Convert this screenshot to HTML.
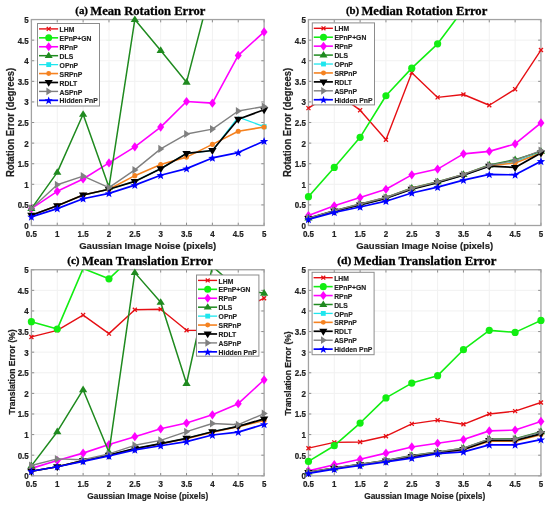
<!DOCTYPE html>
<html><head><meta charset="utf-8"><style>
html,body{margin:0;padding:0;background:#fff;width:550px;height:508px;overflow:hidden}
svg{display:block}
.tk{font-family:"Liberation Sans",Arial,sans-serif;font-weight:bold;font-size:8.4px;fill:#222222;stroke:#222222;stroke-width:0.2px}
.al{font-family:"Liberation Sans",Arial,sans-serif;font-weight:bold;font-size:9.5px;fill:#222222;stroke:#222222;stroke-width:0.2px}
.lg{font-family:"Liberation Sans",Arial,sans-serif;font-weight:bold;font-size:7.0px;fill:#222222;stroke:#222222;stroke-width:0.15px}
.ti{font-family:"Liberation Serif","Times New Roman",serif;font-weight:bold;font-size:13.4px;fill:#000;stroke:#000;stroke-width:0.3px}
.tl{font-size:10.8px}
</style></head><body>
<svg width="550" height="508" viewBox="0 0 550 508">
<rect x="0" y="0" width="550" height="508" fill="#fff"/>
<defs>
<clipPath id="clipa"><rect x="31.4" y="19.55" width="232.70000000000002" height="205.95"/></clipPath>
<clipPath id="clipb"><rect x="308.45" y="19.55" width="232.50000000000006" height="205.95"/></clipPath>
<clipPath id="clipc"><rect x="31.4" y="269.75" width="232.70000000000002" height="206.05"/></clipPath>
<clipPath id="clipd"><rect x="308.45" y="269.75" width="232.50000000000006" height="206.05"/></clipPath>
</defs>
<line x1="57.26" y1="19.55" x2="57.26" y2="225.5" stroke="#f1f1f1" stroke-width="1"/><line x1="83.11" y1="19.55" x2="83.11" y2="225.5" stroke="#f1f1f1" stroke-width="1"/><line x1="108.97" y1="19.55" x2="108.97" y2="225.5" stroke="#f1f1f1" stroke-width="1"/><line x1="134.82" y1="19.55" x2="134.82" y2="225.5" stroke="#f1f1f1" stroke-width="1"/><line x1="160.68" y1="19.55" x2="160.68" y2="225.5" stroke="#f1f1f1" stroke-width="1"/><line x1="186.53" y1="19.55" x2="186.53" y2="225.5" stroke="#f1f1f1" stroke-width="1"/><line x1="212.39" y1="19.55" x2="212.39" y2="225.5" stroke="#f1f1f1" stroke-width="1"/><line x1="238.24" y1="19.55" x2="238.24" y2="225.5" stroke="#f1f1f1" stroke-width="1"/><line x1="31.4" y1="204.91" x2="264.1" y2="204.91" stroke="#f1f1f1" stroke-width="1"/><line x1="31.4" y1="184.31" x2="264.1" y2="184.31" stroke="#f1f1f1" stroke-width="1"/><line x1="31.4" y1="163.72" x2="264.1" y2="163.72" stroke="#f1f1f1" stroke-width="1"/><line x1="31.4" y1="143.12" x2="264.1" y2="143.12" stroke="#f1f1f1" stroke-width="1"/><line x1="31.4" y1="122.53" x2="264.1" y2="122.53" stroke="#f1f1f1" stroke-width="1"/><line x1="31.4" y1="101.93" x2="264.1" y2="101.93" stroke="#f1f1f1" stroke-width="1"/><line x1="31.4" y1="81.34" x2="264.1" y2="81.34" stroke="#f1f1f1" stroke-width="1"/><line x1="31.4" y1="60.74" x2="264.1" y2="60.74" stroke="#f1f1f1" stroke-width="1"/><line x1="31.4" y1="40.15" x2="264.1" y2="40.15" stroke="#f1f1f1" stroke-width="1"/><line x1="31.40" y1="225.5" x2="31.40" y2="222.7" stroke="#808080" stroke-width="0.9"/><line x1="31.40" y1="19.55" x2="31.40" y2="22.35" stroke="#808080" stroke-width="0.9"/><line x1="57.26" y1="225.5" x2="57.26" y2="222.7" stroke="#808080" stroke-width="0.9"/><line x1="57.26" y1="19.55" x2="57.26" y2="22.35" stroke="#808080" stroke-width="0.9"/><line x1="83.11" y1="225.5" x2="83.11" y2="222.7" stroke="#808080" stroke-width="0.9"/><line x1="83.11" y1="19.55" x2="83.11" y2="22.35" stroke="#808080" stroke-width="0.9"/><line x1="108.97" y1="225.5" x2="108.97" y2="222.7" stroke="#808080" stroke-width="0.9"/><line x1="108.97" y1="19.55" x2="108.97" y2="22.35" stroke="#808080" stroke-width="0.9"/><line x1="134.82" y1="225.5" x2="134.82" y2="222.7" stroke="#808080" stroke-width="0.9"/><line x1="134.82" y1="19.55" x2="134.82" y2="22.35" stroke="#808080" stroke-width="0.9"/><line x1="160.68" y1="225.5" x2="160.68" y2="222.7" stroke="#808080" stroke-width="0.9"/><line x1="160.68" y1="19.55" x2="160.68" y2="22.35" stroke="#808080" stroke-width="0.9"/><line x1="186.53" y1="225.5" x2="186.53" y2="222.7" stroke="#808080" stroke-width="0.9"/><line x1="186.53" y1="19.55" x2="186.53" y2="22.35" stroke="#808080" stroke-width="0.9"/><line x1="212.39" y1="225.5" x2="212.39" y2="222.7" stroke="#808080" stroke-width="0.9"/><line x1="212.39" y1="19.55" x2="212.39" y2="22.35" stroke="#808080" stroke-width="0.9"/><line x1="238.24" y1="225.5" x2="238.24" y2="222.7" stroke="#808080" stroke-width="0.9"/><line x1="238.24" y1="19.55" x2="238.24" y2="22.35" stroke="#808080" stroke-width="0.9"/><line x1="264.10" y1="225.5" x2="264.10" y2="222.7" stroke="#808080" stroke-width="0.9"/><line x1="264.10" y1="19.55" x2="264.10" y2="22.35" stroke="#808080" stroke-width="0.9"/><line x1="31.4" y1="225.50" x2="34.199999999999996" y2="225.50" stroke="#808080" stroke-width="0.9"/><line x1="264.1" y1="225.50" x2="261.3" y2="225.50" stroke="#808080" stroke-width="0.9"/><line x1="31.4" y1="204.91" x2="34.199999999999996" y2="204.91" stroke="#808080" stroke-width="0.9"/><line x1="264.1" y1="204.91" x2="261.3" y2="204.91" stroke="#808080" stroke-width="0.9"/><line x1="31.4" y1="184.31" x2="34.199999999999996" y2="184.31" stroke="#808080" stroke-width="0.9"/><line x1="264.1" y1="184.31" x2="261.3" y2="184.31" stroke="#808080" stroke-width="0.9"/><line x1="31.4" y1="163.72" x2="34.199999999999996" y2="163.72" stroke="#808080" stroke-width="0.9"/><line x1="264.1" y1="163.72" x2="261.3" y2="163.72" stroke="#808080" stroke-width="0.9"/><line x1="31.4" y1="143.12" x2="34.199999999999996" y2="143.12" stroke="#808080" stroke-width="0.9"/><line x1="264.1" y1="143.12" x2="261.3" y2="143.12" stroke="#808080" stroke-width="0.9"/><line x1="31.4" y1="122.53" x2="34.199999999999996" y2="122.53" stroke="#808080" stroke-width="0.9"/><line x1="264.1" y1="122.53" x2="261.3" y2="122.53" stroke="#808080" stroke-width="0.9"/><line x1="31.4" y1="101.93" x2="34.199999999999996" y2="101.93" stroke="#808080" stroke-width="0.9"/><line x1="264.1" y1="101.93" x2="261.3" y2="101.93" stroke="#808080" stroke-width="0.9"/><line x1="31.4" y1="81.34" x2="34.199999999999996" y2="81.34" stroke="#808080" stroke-width="0.9"/><line x1="264.1" y1="81.34" x2="261.3" y2="81.34" stroke="#808080" stroke-width="0.9"/><line x1="31.4" y1="60.74" x2="34.199999999999996" y2="60.74" stroke="#808080" stroke-width="0.9"/><line x1="264.1" y1="60.74" x2="261.3" y2="60.74" stroke="#808080" stroke-width="0.9"/><line x1="31.4" y1="40.15" x2="34.199999999999996" y2="40.15" stroke="#808080" stroke-width="0.9"/><line x1="264.1" y1="40.15" x2="261.3" y2="40.15" stroke="#808080" stroke-width="0.9"/><line x1="31.4" y1="19.55" x2="34.199999999999996" y2="19.55" stroke="#808080" stroke-width="0.9"/><line x1="264.1" y1="19.55" x2="261.3" y2="19.55" stroke="#808080" stroke-width="0.9"/><rect x="31.4" y="19.55" width="232.70" height="205.95" fill="none" stroke="#a2a2a2" stroke-width="1.3"/><polyline clip-path="url(#clipa)" points="31.40,208.61 57.26,191.31 83.11,178.96 108.97,162.89 134.82,146.83 160.68,127.06 186.53,101.52 212.39,103.17 238.24,55.39 264.10,31.91" fill="none" stroke="#ff00ff" stroke-width="1.6" stroke-linejoin="round"/><path d="M31.40,204.01L34.88,208.61L31.40,213.21L27.92,208.61Z" fill="#ff00ff"/><path d="M57.26,186.71L60.74,191.31L57.26,195.91L53.77,191.31Z" fill="#ff00ff"/><path d="M83.11,174.35L86.59,178.96L83.11,183.56L79.63,178.96Z" fill="#ff00ff"/><path d="M108.97,158.29L112.45,162.89L108.97,167.49L105.49,162.89Z" fill="#ff00ff"/><path d="M134.82,142.23L138.30,146.83L134.82,151.43L131.34,146.83Z" fill="#ff00ff"/><path d="M160.68,122.45L164.16,127.06L160.68,131.66L157.20,127.06Z" fill="#ff00ff"/><path d="M186.53,96.92L190.01,101.52L186.53,106.12L183.05,101.52Z" fill="#ff00ff"/><path d="M212.39,98.56L215.87,103.17L212.39,107.77L208.91,103.17Z" fill="#ff00ff"/><path d="M238.24,50.78L241.73,55.39L238.24,59.99L234.76,55.39Z" fill="#ff00ff"/><path d="M264.10,27.31L267.58,31.91L264.10,36.51L260.62,31.91Z" fill="#ff00ff"/><polyline clip-path="url(#clipa)" points="31.40,208.61 57.26,172.36 83.11,114.29 108.97,187.19 134.82,19.55 160.68,50.44 186.53,82.16 212.39,-17.52 238.24,-62.83 264.10,-104.02" fill="none" stroke="#1f8a1f" stroke-width="1.5" stroke-linejoin="round"/><path d="M31.40,204.48L35.53,211.09L27.27,211.09Z" fill="#1f8a1f"/><path d="M57.26,168.23L61.39,174.84L53.13,174.84Z" fill="#1f8a1f"/><path d="M83.11,110.16L87.24,116.76L78.98,116.76Z" fill="#1f8a1f"/><path d="M108.97,183.06L113.10,189.67L104.84,189.67Z" fill="#1f8a1f"/><path d="M134.82,15.42L138.95,22.03L130.69,22.03Z" fill="#1f8a1f"/><path d="M160.68,46.31L164.81,52.92L156.55,52.92Z" fill="#1f8a1f"/><path d="M186.53,78.03L190.66,84.64L182.40,84.64Z" fill="#1f8a1f"/><polyline clip-path="url(#clipa)" points="31.40,215.20 57.26,205.73 83.11,195.02 108.97,189.25 134.82,181.43 160.68,168.66 186.53,153.42 212.39,150.53 238.24,117.17 264.10,126.64" fill="none" stroke="#1ee6ee" stroke-width="1.3" stroke-linejoin="round"/><rect x="261.62" y="124.17" width="4.96" height="4.96" fill="#1ee6ee"/><polyline clip-path="url(#clipa)" points="31.40,215.20 57.26,205.73 83.11,195.02 108.97,189.25 134.82,175.66 160.68,164.54 186.53,157.12 212.39,144.36 238.24,131.17 264.10,127.06" fill="none" stroke="#f58220" stroke-width="1.6" stroke-linejoin="round"/><circle cx="31.40" cy="215.20" r="2.54" fill="#f58220"/><circle cx="57.26" cy="205.73" r="2.54" fill="#f58220"/><circle cx="83.11" cy="195.02" r="2.54" fill="#f58220"/><circle cx="108.97" cy="189.25" r="2.54" fill="#f58220"/><circle cx="134.82" cy="175.66" r="2.54" fill="#f58220"/><circle cx="160.68" cy="164.54" r="2.54" fill="#f58220"/><circle cx="186.53" cy="157.12" r="2.54" fill="#f58220"/><circle cx="212.39" cy="144.36" r="2.54" fill="#f58220"/><circle cx="238.24" cy="131.17" r="2.54" fill="#f58220"/><circle cx="264.10" cy="127.06" r="2.54" fill="#f58220"/><polyline clip-path="url(#clipa)" points="31.40,215.20 57.26,205.73 83.11,195.02 108.97,189.25 134.82,181.43 160.68,168.66 186.53,153.42 212.39,150.53 238.24,119.23 264.10,109.76" fill="none" stroke="#000000" stroke-width="1.7" stroke-linejoin="round"/><path d="M31.40,219.69L35.59,212.72L27.21,212.72Z" fill="#000000"/><path d="M57.26,210.21L61.44,203.25L53.07,203.25Z" fill="#000000"/><path d="M83.11,199.50L87.30,192.54L78.92,192.54Z" fill="#000000"/><path d="M108.97,193.74L113.16,186.77L104.78,186.77Z" fill="#000000"/><path d="M134.82,185.91L139.01,178.95L130.63,178.95Z" fill="#000000"/><path d="M160.68,173.14L164.87,166.18L156.49,166.18Z" fill="#000000"/><path d="M186.53,157.90L190.72,150.94L182.34,150.94Z" fill="#000000"/><path d="M212.39,155.02L216.58,148.06L208.20,148.06Z" fill="#000000"/><path d="M238.24,123.71L242.43,116.75L234.06,116.75Z" fill="#000000"/><path d="M264.10,114.24L268.29,107.28L259.91,107.28Z" fill="#000000"/><polyline clip-path="url(#clipa)" points="31.40,208.61 57.26,184.72 83.11,176.07 108.97,187.61 134.82,169.89 160.68,148.89 186.53,134.06 212.39,129.12 238.24,110.99 264.10,106.46" fill="none" stroke="#808080" stroke-width="1.4" stroke-linejoin="round"/><path d="M35.06,208.61L29.04,204.60L29.04,212.62Z" fill="#808080"/><path d="M60.91,184.72L54.90,180.71L54.90,188.73Z" fill="#808080"/><path d="M86.77,176.07L80.75,172.06L80.75,180.08Z" fill="#808080"/><path d="M112.62,187.61L106.61,183.59L106.61,191.62Z" fill="#808080"/><path d="M138.48,169.89L132.46,165.88L132.46,173.91Z" fill="#808080"/><path d="M164.34,148.89L158.32,144.87L158.32,152.90Z" fill="#808080"/><path d="M190.19,134.06L184.17,130.05L184.17,138.07Z" fill="#808080"/><path d="M216.05,129.12L210.03,125.10L210.03,133.13Z" fill="#808080"/><path d="M241.90,110.99L235.88,106.98L235.88,115.00Z" fill="#808080"/><path d="M267.76,106.46L261.74,102.45L261.74,110.47Z" fill="#808080"/><polyline clip-path="url(#clipa)" points="31.40,216.85 57.26,208.61 83.11,198.73 108.97,193.37 134.82,185.13 160.68,175.25 186.53,168.66 212.39,157.95 238.24,152.59 264.10,141.06" fill="none" stroke="#0000ff" stroke-width="1.7" stroke-linejoin="round"/><polygon points="31.40,212.84 32.48,215.72 35.55,215.85 33.14,217.77 33.97,220.74 31.40,219.03 28.83,220.74 29.66,217.77 27.25,215.85 30.32,215.72" fill="#0000ff"/><polygon points="57.26,204.60 58.33,207.49 61.41,207.62 59.00,209.53 59.82,212.50 57.26,210.80 54.69,212.50 55.52,209.53 53.10,207.62 56.18,207.49" fill="#0000ff"/><polygon points="83.11,194.71 84.19,197.60 87.26,197.73 84.85,199.65 85.68,202.61 83.11,200.91 80.54,202.61 81.37,199.65 78.96,197.73 82.04,197.60" fill="#0000ff"/><polygon points="108.97,189.36 110.04,192.25 113.12,192.38 110.71,194.29 111.53,197.26 108.97,195.55 106.40,197.26 107.23,194.29 104.81,192.38 107.89,192.25" fill="#0000ff"/><polygon points="134.82,181.12 135.90,184.01 138.97,184.14 136.56,186.05 137.39,189.02 134.82,187.32 132.26,189.02 133.08,186.05 130.67,184.14 133.75,184.01" fill="#0000ff"/><polygon points="160.68,171.24 161.75,174.12 164.83,174.25 162.42,176.17 163.24,179.13 160.68,177.43 158.11,179.13 158.94,176.17 156.53,174.25 159.60,174.12" fill="#0000ff"/><polygon points="186.53,164.65 187.61,167.53 190.69,167.66 188.27,169.58 189.10,172.54 186.53,170.84 183.97,172.54 184.79,169.58 182.38,167.66 185.46,167.53" fill="#0000ff"/><polygon points="212.39,153.94 213.46,156.82 216.54,156.95 214.13,158.87 214.96,161.83 212.39,160.13 209.82,161.83 210.65,158.87 208.24,156.95 211.31,156.82" fill="#0000ff"/><polygon points="238.24,148.58 239.32,151.47 242.40,151.60 239.98,153.51 240.81,156.48 238.24,154.78 235.68,156.48 236.50,153.51 234.09,151.60 237.17,151.47" fill="#0000ff"/><polygon points="264.10,137.05 265.18,139.93 268.25,140.07 265.84,141.98 266.67,144.95 264.10,143.24 261.53,144.95 262.36,141.98 259.95,140.07 263.02,139.93" fill="#0000ff"/><text x="31.40" y="237.20" class="tk" text-anchor="middle" textLength="11.12" lengthAdjust="spacingAndGlyphs">0.5</text><text x="57.26" y="237.20" class="tk" text-anchor="middle" textLength="4.45" lengthAdjust="spacingAndGlyphs">1</text><text x="83.11" y="237.20" class="tk" text-anchor="middle" textLength="11.12" lengthAdjust="spacingAndGlyphs">1.5</text><text x="108.97" y="237.20" class="tk" text-anchor="middle" textLength="4.45" lengthAdjust="spacingAndGlyphs">2</text><text x="134.82" y="237.20" class="tk" text-anchor="middle" textLength="11.12" lengthAdjust="spacingAndGlyphs">2.5</text><text x="160.68" y="237.20" class="tk" text-anchor="middle" textLength="4.45" lengthAdjust="spacingAndGlyphs">3</text><text x="186.53" y="237.20" class="tk" text-anchor="middle" textLength="11.12" lengthAdjust="spacingAndGlyphs">3.5</text><text x="212.39" y="237.20" class="tk" text-anchor="middle" textLength="4.45" lengthAdjust="spacingAndGlyphs">4</text><text x="238.24" y="237.20" class="tk" text-anchor="middle" textLength="11.12" lengthAdjust="spacingAndGlyphs">4.5</text><text x="264.10" y="237.20" class="tk" text-anchor="middle" textLength="4.45" lengthAdjust="spacingAndGlyphs">5</text><text x="28.80" y="228.90" class="tk" text-anchor="end" textLength="4.45" lengthAdjust="spacingAndGlyphs">0</text><text x="28.80" y="208.31" class="tk" text-anchor="end" textLength="11.12" lengthAdjust="spacingAndGlyphs">0.5</text><text x="28.80" y="187.71" class="tk" text-anchor="end" textLength="4.45" lengthAdjust="spacingAndGlyphs">1</text><text x="28.80" y="167.12" class="tk" text-anchor="end" textLength="11.12" lengthAdjust="spacingAndGlyphs">1.5</text><text x="28.80" y="146.52" class="tk" text-anchor="end" textLength="4.45" lengthAdjust="spacingAndGlyphs">2</text><text x="28.80" y="125.93" class="tk" text-anchor="end" textLength="11.12" lengthAdjust="spacingAndGlyphs">2.5</text><text x="28.80" y="105.33" class="tk" text-anchor="end" textLength="4.45" lengthAdjust="spacingAndGlyphs">3</text><text x="28.80" y="84.74" class="tk" text-anchor="end" textLength="11.12" lengthAdjust="spacingAndGlyphs">3.5</text><text x="28.80" y="64.14" class="tk" text-anchor="end" textLength="4.45" lengthAdjust="spacingAndGlyphs">4</text><text x="28.80" y="43.55" class="tk" text-anchor="end" textLength="11.12" lengthAdjust="spacingAndGlyphs">4.5</text><text x="28.80" y="22.95" class="tk" text-anchor="end" textLength="4.45" lengthAdjust="spacingAndGlyphs">5</text><text x="147.75" y="249.10" style="font-size:9.9px" class="al" text-anchor="middle" textLength="137.00" lengthAdjust="spacingAndGlyphs">Gaussian Image Noise (pixels)</text><text transform="translate(13.90,122.53) rotate(-90)" style="font-size:10.3px" class="al" text-anchor="middle" textLength="109.20" lengthAdjust="spacingAndGlyphs">Rotation Error (degrees)</text><text x="75.30" y="14.25" class="ti tl" textLength="12.70" lengthAdjust="spacingAndGlyphs">(a)</text><text x="90.30" y="14.65" class="ti" textLength="115.10" lengthAdjust="spacingAndGlyphs">Mean Rotation Error</text><rect x="37.5" y="23.5" width="62.0" height="82.5" fill="#fff" stroke="#8c8c8c" stroke-width="1"/><line x1="39.00" y1="28.90" x2="58.10" y2="28.90" stroke="#e60f14" stroke-width="1.4"/><path d="M46.75,26.95L50.66,30.85M46.75,30.85L50.66,26.95" stroke="#e60f14" stroke-width="1.3" fill="none"/><text x="59.60" y="32.00" class="lg" textLength="14.73" lengthAdjust="spacingAndGlyphs">LHM</text><line x1="39.00" y1="37.83" x2="58.10" y2="37.83" stroke="#12ee12" stroke-width="1.6"/><circle cx="48.70" cy="37.83" r="3.51" fill="#12ee12"/><text x="59.60" y="40.93" class="lg" textLength="31.93" lengthAdjust="spacingAndGlyphs">EPnP+GN</text><line x1="39.00" y1="46.76" x2="58.10" y2="46.76" stroke="#ff00ff" stroke-width="1.6"/><path d="M48.70,42.27L52.09,46.76L48.70,51.24L45.31,46.76Z" fill="#ff00ff"/><text x="59.60" y="49.86" class="lg" textLength="18.14" lengthAdjust="spacingAndGlyphs">RPnP</text><line x1="39.00" y1="55.69" x2="58.10" y2="55.69" stroke="#1f8a1f" stroke-width="1.5"/><path d="M48.70,51.66L52.73,58.10L44.68,58.10Z" fill="#1f8a1f"/><text x="59.60" y="58.79" class="lg" textLength="13.60" lengthAdjust="spacingAndGlyphs">DLS</text><line x1="39.00" y1="64.62" x2="58.10" y2="64.62" stroke="#1ee6ee" stroke-width="1.3"/><rect x="46.29" y="62.21" width="4.83" height="4.83" fill="#1ee6ee"/><text x="59.60" y="67.72" class="lg" textLength="18.51" lengthAdjust="spacingAndGlyphs">OPnP</text><line x1="39.00" y1="73.55" x2="58.10" y2="73.55" stroke="#f58220" stroke-width="1.6"/><circle cx="48.70" cy="73.55" r="2.47" fill="#f58220"/><text x="59.60" y="76.65" class="lg" textLength="22.67" lengthAdjust="spacingAndGlyphs">SRPnP</text><line x1="39.00" y1="82.48" x2="58.10" y2="82.48" stroke="#000000" stroke-width="1.7"/><path d="M48.70,86.85L52.78,80.06L44.62,80.06Z" fill="#000000"/><text x="59.60" y="85.58" class="lg" textLength="17.62" lengthAdjust="spacingAndGlyphs">RDLT</text><line x1="39.00" y1="91.41" x2="58.10" y2="91.41" stroke="#808080" stroke-width="1.4"/><path d="M52.27,91.41L46.40,87.50L46.40,95.32Z" fill="#808080"/><text x="59.60" y="94.51" class="lg" textLength="22.67" lengthAdjust="spacingAndGlyphs">ASPnP</text><line x1="39.00" y1="100.34" x2="58.10" y2="100.34" stroke="#0000ff" stroke-width="1.7"/><polygon points="48.70,96.43 49.75,99.24 52.75,99.37 50.40,101.24 51.20,104.13 48.70,102.47 46.20,104.13 47.00,101.24 44.65,99.37 47.65,99.24" fill="#0000ff"/><text x="59.60" y="103.44" class="lg" textLength="38.16" lengthAdjust="spacingAndGlyphs">Hidden PnP</text>
<line x1="334.28" y1="19.55" x2="334.28" y2="225.5" stroke="#f1f1f1" stroke-width="1"/><line x1="360.12" y1="19.55" x2="360.12" y2="225.5" stroke="#f1f1f1" stroke-width="1"/><line x1="385.95" y1="19.55" x2="385.95" y2="225.5" stroke="#f1f1f1" stroke-width="1"/><line x1="411.78" y1="19.55" x2="411.78" y2="225.5" stroke="#f1f1f1" stroke-width="1"/><line x1="437.62" y1="19.55" x2="437.62" y2="225.5" stroke="#f1f1f1" stroke-width="1"/><line x1="463.45" y1="19.55" x2="463.45" y2="225.5" stroke="#f1f1f1" stroke-width="1"/><line x1="489.28" y1="19.55" x2="489.28" y2="225.5" stroke="#f1f1f1" stroke-width="1"/><line x1="515.12" y1="19.55" x2="515.12" y2="225.5" stroke="#f1f1f1" stroke-width="1"/><line x1="308.45" y1="204.91" x2="540.95" y2="204.91" stroke="#f1f1f1" stroke-width="1"/><line x1="308.45" y1="184.31" x2="540.95" y2="184.31" stroke="#f1f1f1" stroke-width="1"/><line x1="308.45" y1="163.72" x2="540.95" y2="163.72" stroke="#f1f1f1" stroke-width="1"/><line x1="308.45" y1="143.12" x2="540.95" y2="143.12" stroke="#f1f1f1" stroke-width="1"/><line x1="308.45" y1="122.53" x2="540.95" y2="122.53" stroke="#f1f1f1" stroke-width="1"/><line x1="308.45" y1="101.93" x2="540.95" y2="101.93" stroke="#f1f1f1" stroke-width="1"/><line x1="308.45" y1="81.34" x2="540.95" y2="81.34" stroke="#f1f1f1" stroke-width="1"/><line x1="308.45" y1="60.74" x2="540.95" y2="60.74" stroke="#f1f1f1" stroke-width="1"/><line x1="308.45" y1="40.15" x2="540.95" y2="40.15" stroke="#f1f1f1" stroke-width="1"/><line x1="308.45" y1="225.5" x2="308.45" y2="222.7" stroke="#808080" stroke-width="0.9"/><line x1="308.45" y1="19.55" x2="308.45" y2="22.35" stroke="#808080" stroke-width="0.9"/><line x1="334.28" y1="225.5" x2="334.28" y2="222.7" stroke="#808080" stroke-width="0.9"/><line x1="334.28" y1="19.55" x2="334.28" y2="22.35" stroke="#808080" stroke-width="0.9"/><line x1="360.12" y1="225.5" x2="360.12" y2="222.7" stroke="#808080" stroke-width="0.9"/><line x1="360.12" y1="19.55" x2="360.12" y2="22.35" stroke="#808080" stroke-width="0.9"/><line x1="385.95" y1="225.5" x2="385.95" y2="222.7" stroke="#808080" stroke-width="0.9"/><line x1="385.95" y1="19.55" x2="385.95" y2="22.35" stroke="#808080" stroke-width="0.9"/><line x1="411.78" y1="225.5" x2="411.78" y2="222.7" stroke="#808080" stroke-width="0.9"/><line x1="411.78" y1="19.55" x2="411.78" y2="22.35" stroke="#808080" stroke-width="0.9"/><line x1="437.62" y1="225.5" x2="437.62" y2="222.7" stroke="#808080" stroke-width="0.9"/><line x1="437.62" y1="19.55" x2="437.62" y2="22.35" stroke="#808080" stroke-width="0.9"/><line x1="463.45" y1="225.5" x2="463.45" y2="222.7" stroke="#808080" stroke-width="0.9"/><line x1="463.45" y1="19.55" x2="463.45" y2="22.35" stroke="#808080" stroke-width="0.9"/><line x1="489.28" y1="225.5" x2="489.28" y2="222.7" stroke="#808080" stroke-width="0.9"/><line x1="489.28" y1="19.55" x2="489.28" y2="22.35" stroke="#808080" stroke-width="0.9"/><line x1="515.12" y1="225.5" x2="515.12" y2="222.7" stroke="#808080" stroke-width="0.9"/><line x1="515.12" y1="19.55" x2="515.12" y2="22.35" stroke="#808080" stroke-width="0.9"/><line x1="540.95" y1="225.5" x2="540.95" y2="222.7" stroke="#808080" stroke-width="0.9"/><line x1="540.95" y1="19.55" x2="540.95" y2="22.35" stroke="#808080" stroke-width="0.9"/><line x1="308.45" y1="225.50" x2="311.25" y2="225.50" stroke="#808080" stroke-width="0.9"/><line x1="540.95" y1="225.50" x2="538.1500000000001" y2="225.50" stroke="#808080" stroke-width="0.9"/><line x1="308.45" y1="204.91" x2="311.25" y2="204.91" stroke="#808080" stroke-width="0.9"/><line x1="540.95" y1="204.91" x2="538.1500000000001" y2="204.91" stroke="#808080" stroke-width="0.9"/><line x1="308.45" y1="184.31" x2="311.25" y2="184.31" stroke="#808080" stroke-width="0.9"/><line x1="540.95" y1="184.31" x2="538.1500000000001" y2="184.31" stroke="#808080" stroke-width="0.9"/><line x1="308.45" y1="163.72" x2="311.25" y2="163.72" stroke="#808080" stroke-width="0.9"/><line x1="540.95" y1="163.72" x2="538.1500000000001" y2="163.72" stroke="#808080" stroke-width="0.9"/><line x1="308.45" y1="143.12" x2="311.25" y2="143.12" stroke="#808080" stroke-width="0.9"/><line x1="540.95" y1="143.12" x2="538.1500000000001" y2="143.12" stroke="#808080" stroke-width="0.9"/><line x1="308.45" y1="122.53" x2="311.25" y2="122.53" stroke="#808080" stroke-width="0.9"/><line x1="540.95" y1="122.53" x2="538.1500000000001" y2="122.53" stroke="#808080" stroke-width="0.9"/><line x1="308.45" y1="101.93" x2="311.25" y2="101.93" stroke="#808080" stroke-width="0.9"/><line x1="540.95" y1="101.93" x2="538.1500000000001" y2="101.93" stroke="#808080" stroke-width="0.9"/><line x1="308.45" y1="81.34" x2="311.25" y2="81.34" stroke="#808080" stroke-width="0.9"/><line x1="540.95" y1="81.34" x2="538.1500000000001" y2="81.34" stroke="#808080" stroke-width="0.9"/><line x1="308.45" y1="60.74" x2="311.25" y2="60.74" stroke="#808080" stroke-width="0.9"/><line x1="540.95" y1="60.74" x2="538.1500000000001" y2="60.74" stroke="#808080" stroke-width="0.9"/><line x1="308.45" y1="40.15" x2="311.25" y2="40.15" stroke="#808080" stroke-width="0.9"/><line x1="540.95" y1="40.15" x2="538.1500000000001" y2="40.15" stroke="#808080" stroke-width="0.9"/><line x1="308.45" y1="19.55" x2="311.25" y2="19.55" stroke="#808080" stroke-width="0.9"/><line x1="540.95" y1="19.55" x2="538.1500000000001" y2="19.55" stroke="#808080" stroke-width="0.9"/><rect x="308.45" y="19.55" width="232.50" height="205.95" fill="none" stroke="#a2a2a2" stroke-width="1.3"/><polyline clip-path="url(#clipb)" points="308.45,108.11 334.28,91.63 360.12,110.17 385.95,139.82 411.78,72.69 437.62,97.40 463.45,94.52 489.28,105.23 515.12,89.16 540.95,50.03" fill="none" stroke="#e60f14" stroke-width="1.4" stroke-linejoin="round"/><path d="M306.44,106.10L310.46,110.11M306.44,110.11L310.46,106.10" stroke="#e60f14" stroke-width="1.3" fill="none"/><path d="M332.28,89.63L336.29,93.64M332.28,93.64L336.29,89.63" stroke="#e60f14" stroke-width="1.3" fill="none"/><path d="M358.11,108.16L362.12,112.17M358.11,112.17L362.12,108.16" stroke="#e60f14" stroke-width="1.3" fill="none"/><path d="M383.94,137.82L387.96,141.83M383.94,141.83L387.96,137.82" stroke="#e60f14" stroke-width="1.3" fill="none"/><path d="M409.78,70.68L413.79,74.69M409.78,74.69L413.79,70.68" stroke="#e60f14" stroke-width="1.3" fill="none"/><path d="M435.61,95.39L439.62,99.41M435.61,99.41L439.62,95.39" stroke="#e60f14" stroke-width="1.3" fill="none"/><path d="M461.44,92.51L465.46,96.52M461.44,96.52L465.46,92.51" stroke="#e60f14" stroke-width="1.3" fill="none"/><path d="M487.28,103.22L491.29,107.23M487.28,107.23L491.29,103.22" stroke="#e60f14" stroke-width="1.3" fill="none"/><path d="M513.11,87.16L517.12,91.17M513.11,91.17L517.12,87.16" stroke="#e60f14" stroke-width="1.3" fill="none"/><path d="M538.94,48.02L542.96,52.04M538.94,52.04L542.96,48.02" stroke="#e60f14" stroke-width="1.3" fill="none"/><polyline clip-path="url(#clipb)" points="308.45,196.67 334.28,167.42 360.12,137.35 385.95,95.75 411.78,68.15 437.62,43.85 463.45,9.25 489.28,-21.64 515.12,-42.24 540.95,-62.83" fill="none" stroke="#12ee12" stroke-width="1.6" stroke-linejoin="round"/><circle cx="308.45" cy="196.67" r="3.60" fill="#12ee12"/><circle cx="334.28" cy="167.42" r="3.60" fill="#12ee12"/><circle cx="360.12" cy="137.35" r="3.60" fill="#12ee12"/><circle cx="385.95" cy="95.75" r="3.60" fill="#12ee12"/><circle cx="411.78" cy="68.15" r="3.60" fill="#12ee12"/><circle cx="437.62" cy="43.85" r="3.60" fill="#12ee12"/><polyline clip-path="url(#clipb)" points="308.45,215.61 334.28,205.73 360.12,197.49 385.95,189.25 411.78,174.84 437.62,169.07 463.45,153.83 489.28,151.36 515.12,143.94 540.95,122.94" fill="none" stroke="#ff00ff" stroke-width="1.6" stroke-linejoin="round"/><path d="M308.45,211.01L311.93,215.61L308.45,220.22L304.97,215.61Z" fill="#ff00ff"/><path d="M334.28,201.13L337.76,205.73L334.28,210.33L330.80,205.73Z" fill="#ff00ff"/><path d="M360.12,192.89L363.60,197.49L360.12,202.09L356.64,197.49Z" fill="#ff00ff"/><path d="M385.95,184.65L389.43,189.25L385.95,193.85L382.47,189.25Z" fill="#ff00ff"/><path d="M411.78,170.23L415.26,174.84L411.78,179.44L408.30,174.84Z" fill="#ff00ff"/><path d="M437.62,164.47L441.10,169.07L437.62,173.67L434.14,169.07Z" fill="#ff00ff"/><path d="M463.45,149.23L466.93,153.83L463.45,158.43L459.97,153.83Z" fill="#ff00ff"/><path d="M489.28,146.76L492.76,151.36L489.28,155.96L485.80,151.36Z" fill="#ff00ff"/><path d="M515.12,139.34L518.60,143.94L515.12,148.55L511.64,143.94Z" fill="#ff00ff"/><path d="M540.95,118.33L544.43,122.94L540.95,127.54L537.47,122.94Z" fill="#ff00ff"/><polyline clip-path="url(#clipb)" points="308.45,218.09 334.28,210.67 360.12,204.08 385.95,197.49 411.78,188.02 437.62,181.84 463.45,174.42 489.28,164.95 515.12,159.60 540.95,151.36" fill="none" stroke="#1f8a1f" stroke-width="1.5" stroke-linejoin="round"/><path d="M308.45,213.96L312.58,220.56L304.32,220.56Z" fill="#1f8a1f"/><path d="M334.28,206.54L338.41,213.15L330.15,213.15Z" fill="#1f8a1f"/><path d="M360.12,199.95L364.25,206.56L355.99,206.56Z" fill="#1f8a1f"/><path d="M385.95,193.36L390.08,199.97L381.82,199.97Z" fill="#1f8a1f"/><path d="M411.78,183.89L415.91,190.50L407.65,190.50Z" fill="#1f8a1f"/><path d="M437.62,177.71L441.75,184.32L433.49,184.32Z" fill="#1f8a1f"/><path d="M463.45,170.29L467.58,176.90L459.32,176.90Z" fill="#1f8a1f"/><path d="M489.28,160.82L493.41,167.43L485.15,167.43Z" fill="#1f8a1f"/><path d="M515.12,155.47L519.25,162.07L510.99,162.07Z" fill="#1f8a1f"/><path d="M540.95,147.23L545.08,153.84L536.82,153.84Z" fill="#1f8a1f"/><polyline clip-path="url(#clipb)" points="308.45,218.50 334.28,211.08 360.12,204.91 385.95,198.31 411.78,188.84 437.62,182.66 463.45,175.25 489.28,166.19 515.12,161.66 540.95,152.59" fill="none" stroke="#1ee6ee" stroke-width="1.3" stroke-linejoin="round"/><rect x="512.64" y="159.18" width="4.96" height="4.96" fill="#1ee6ee"/><polyline clip-path="url(#clipb)" points="308.45,218.50 334.28,211.08 360.12,204.49 385.95,197.90 411.78,188.43 437.62,182.25 463.45,174.84 489.28,165.77 515.12,162.89 540.95,153.01" fill="none" stroke="#f58220" stroke-width="1.6" stroke-linejoin="round"/><circle cx="308.45" cy="218.50" r="2.54" fill="#f58220"/><circle cx="334.28" cy="211.08" r="2.54" fill="#f58220"/><circle cx="360.12" cy="204.49" r="2.54" fill="#f58220"/><circle cx="385.95" cy="197.90" r="2.54" fill="#f58220"/><circle cx="411.78" cy="188.43" r="2.54" fill="#f58220"/><circle cx="437.62" cy="182.25" r="2.54" fill="#f58220"/><circle cx="463.45" cy="174.84" r="2.54" fill="#f58220"/><circle cx="489.28" cy="165.77" r="2.54" fill="#f58220"/><circle cx="515.12" cy="162.89" r="2.54" fill="#f58220"/><circle cx="540.95" cy="153.01" r="2.54" fill="#f58220"/><polyline clip-path="url(#clipb)" points="308.45,218.50 334.28,211.08 360.12,204.91 385.95,198.31 411.78,189.25 437.62,182.66 463.45,175.25 489.28,166.19 515.12,167.42 540.95,153.01" fill="none" stroke="#000000" stroke-width="1.7" stroke-linejoin="round"/><path d="M308.45,222.98L312.64,216.02L304.26,216.02Z" fill="#000000"/><path d="M334.28,215.57L338.47,208.61L330.09,208.61Z" fill="#000000"/><path d="M360.12,209.39L364.31,202.43L355.93,202.43Z" fill="#000000"/><path d="M385.95,202.80L390.14,195.84L381.76,195.84Z" fill="#000000"/><path d="M411.78,193.74L415.97,186.77L407.59,186.77Z" fill="#000000"/><path d="M437.62,187.15L441.81,180.18L433.43,180.18Z" fill="#000000"/><path d="M463.45,179.73L467.64,172.77L459.26,172.77Z" fill="#000000"/><path d="M489.28,170.67L493.47,163.71L485.09,163.71Z" fill="#000000"/><path d="M515.12,171.91L519.31,164.94L510.93,164.94Z" fill="#000000"/><path d="M540.95,157.49L545.14,150.53L536.76,150.53Z" fill="#000000"/><polyline clip-path="url(#clipb)" points="308.45,218.09 334.28,210.67 360.12,204.08 385.95,197.49 411.78,188.43 437.62,181.84 463.45,174.42 489.28,165.36 515.12,160.42 540.95,150.53" fill="none" stroke="#808080" stroke-width="1.4" stroke-linejoin="round"/><path d="M312.11,218.09L306.09,214.07L306.09,222.10Z" fill="#808080"/><path d="M337.94,210.67L331.92,206.66L331.92,214.68Z" fill="#808080"/><path d="M363.77,204.08L357.76,200.07L357.76,208.09Z" fill="#808080"/><path d="M389.61,197.49L383.59,193.48L383.59,201.50Z" fill="#808080"/><path d="M415.44,188.43L409.42,184.42L409.42,192.44Z" fill="#808080"/><path d="M441.27,181.84L435.26,177.83L435.26,185.85Z" fill="#808080"/><path d="M467.11,174.42L461.09,170.41L461.09,178.44Z" fill="#808080"/><path d="M492.94,165.36L486.92,161.35L486.92,169.37Z" fill="#808080"/><path d="M518.77,160.42L512.76,156.41L512.76,164.43Z" fill="#808080"/><path d="M544.61,150.53L538.59,146.52L538.59,154.55Z" fill="#808080"/><polyline clip-path="url(#clipb)" points="308.45,219.32 334.28,212.32 360.12,206.96 385.95,201.20 411.78,192.96 437.62,187.19 463.45,180.19 489.28,174.42 515.12,174.84 540.95,161.24" fill="none" stroke="#0000ff" stroke-width="1.7" stroke-linejoin="round"/><polygon points="308.45,215.31 309.53,218.20 312.60,218.33 310.19,220.24 311.02,223.21 308.45,221.50 305.88,223.21 306.71,220.24 304.30,218.33 307.37,218.20" fill="#0000ff"/><polygon points="334.28,208.31 335.36,211.19 338.44,211.32 336.02,213.24 336.85,216.21 334.28,214.50 331.72,216.21 332.54,213.24 330.13,211.32 333.21,211.19" fill="#0000ff"/><polygon points="360.12,202.95 361.19,205.84 364.27,205.97 361.86,207.88 362.68,210.85 360.12,209.15 357.55,210.85 358.38,207.88 355.96,205.97 359.04,205.84" fill="#0000ff"/><polygon points="385.95,197.19 387.03,200.07 390.10,200.20 387.69,202.12 388.52,205.08 385.95,203.38 383.38,205.08 384.21,202.12 381.80,200.20 384.87,200.07" fill="#0000ff"/><polygon points="411.78,188.95 412.86,191.83 415.94,191.96 413.52,193.88 414.35,196.85 411.78,195.14 409.22,196.85 410.04,193.88 407.63,191.96 410.71,191.83" fill="#0000ff"/><polygon points="437.62,183.18 438.69,186.07 441.77,186.20 439.36,188.11 440.18,191.08 437.62,189.38 435.05,191.08 435.88,188.11 433.46,186.20 436.54,186.07" fill="#0000ff"/><polygon points="463.45,176.18 464.53,179.07 467.60,179.20 465.19,181.11 466.02,184.08 463.45,182.37 460.88,184.08 461.71,181.11 459.30,179.20 462.37,179.07" fill="#0000ff"/><polygon points="489.28,170.41 490.36,173.30 493.44,173.43 491.02,175.34 491.85,178.31 489.28,176.61 486.72,178.31 487.54,175.34 485.13,173.43 488.21,173.30" fill="#0000ff"/><polygon points="515.12,170.82 516.19,173.71 519.27,173.84 516.86,175.76 517.68,178.72 515.12,177.02 512.55,178.72 513.38,175.76 510.96,173.84 514.04,173.71" fill="#0000ff"/><polygon points="540.95,157.23 542.03,160.12 545.10,160.25 542.69,162.16 543.52,165.13 540.95,163.43 538.38,165.13 539.21,162.16 536.80,160.25 539.87,160.12" fill="#0000ff"/><text x="308.45" y="237.20" class="tk" text-anchor="middle" textLength="11.12" lengthAdjust="spacingAndGlyphs">0.5</text><text x="334.28" y="237.20" class="tk" text-anchor="middle" textLength="4.45" lengthAdjust="spacingAndGlyphs">1</text><text x="360.12" y="237.20" class="tk" text-anchor="middle" textLength="11.12" lengthAdjust="spacingAndGlyphs">1.5</text><text x="385.95" y="237.20" class="tk" text-anchor="middle" textLength="4.45" lengthAdjust="spacingAndGlyphs">2</text><text x="411.78" y="237.20" class="tk" text-anchor="middle" textLength="11.12" lengthAdjust="spacingAndGlyphs">2.5</text><text x="437.62" y="237.20" class="tk" text-anchor="middle" textLength="4.45" lengthAdjust="spacingAndGlyphs">3</text><text x="463.45" y="237.20" class="tk" text-anchor="middle" textLength="11.12" lengthAdjust="spacingAndGlyphs">3.5</text><text x="489.28" y="237.20" class="tk" text-anchor="middle" textLength="4.45" lengthAdjust="spacingAndGlyphs">4</text><text x="515.12" y="237.20" class="tk" text-anchor="middle" textLength="11.12" lengthAdjust="spacingAndGlyphs">4.5</text><text x="540.95" y="237.20" class="tk" text-anchor="middle" textLength="4.45" lengthAdjust="spacingAndGlyphs">5</text><text x="305.85" y="228.90" class="tk" text-anchor="end" textLength="4.45" lengthAdjust="spacingAndGlyphs">0</text><text x="305.85" y="208.31" class="tk" text-anchor="end" textLength="11.12" lengthAdjust="spacingAndGlyphs">0.5</text><text x="305.85" y="187.71" class="tk" text-anchor="end" textLength="4.45" lengthAdjust="spacingAndGlyphs">1</text><text x="305.85" y="167.12" class="tk" text-anchor="end" textLength="11.12" lengthAdjust="spacingAndGlyphs">1.5</text><text x="305.85" y="146.52" class="tk" text-anchor="end" textLength="4.45" lengthAdjust="spacingAndGlyphs">2</text><text x="305.85" y="125.93" class="tk" text-anchor="end" textLength="11.12" lengthAdjust="spacingAndGlyphs">2.5</text><text x="305.85" y="105.33" class="tk" text-anchor="end" textLength="4.45" lengthAdjust="spacingAndGlyphs">3</text><text x="305.85" y="84.74" class="tk" text-anchor="end" textLength="11.12" lengthAdjust="spacingAndGlyphs">3.5</text><text x="305.85" y="64.14" class="tk" text-anchor="end" textLength="4.45" lengthAdjust="spacingAndGlyphs">4</text><text x="305.85" y="43.55" class="tk" text-anchor="end" textLength="11.12" lengthAdjust="spacingAndGlyphs">4.5</text><text x="305.85" y="22.95" class="tk" text-anchor="end" textLength="4.45" lengthAdjust="spacingAndGlyphs">5</text><text x="424.70" y="249.10" style="font-size:9.9px" class="al" text-anchor="middle" textLength="137.00" lengthAdjust="spacingAndGlyphs">Gaussian Image Noise (pixels)</text><text transform="translate(290.85,122.53) rotate(-90)" style="font-size:10.3px" class="al" text-anchor="middle" textLength="109.20" lengthAdjust="spacingAndGlyphs">Rotation Error (degrees)</text><text x="345.90" y="14.25" class="ti tl" textLength="13.20" lengthAdjust="spacingAndGlyphs">(b)</text><text x="361.40" y="14.65" class="ti" textLength="125.90" lengthAdjust="spacingAndGlyphs">Median Rotation Error</text><rect x="312.3" y="22.9" width="62.2" height="82.0" fill="#fff" stroke="#8c8c8c" stroke-width="1"/><line x1="313.80" y1="28.30" x2="332.90" y2="28.30" stroke="#e60f14" stroke-width="1.4"/><path d="M321.55,26.34L325.45,30.25M321.55,30.25L325.45,26.34" stroke="#e60f14" stroke-width="1.3" fill="none"/><text x="334.40" y="31.40" class="lg" textLength="14.73" lengthAdjust="spacingAndGlyphs">LHM</text><line x1="313.80" y1="37.23" x2="332.90" y2="37.23" stroke="#12ee12" stroke-width="1.6"/><circle cx="323.50" cy="37.23" r="3.51" fill="#12ee12"/><text x="334.40" y="40.33" class="lg" textLength="31.93" lengthAdjust="spacingAndGlyphs">EPnP+GN</text><line x1="313.80" y1="46.16" x2="332.90" y2="46.16" stroke="#ff00ff" stroke-width="1.6"/><path d="M323.50,41.67L326.89,46.16L323.50,50.64L320.11,46.16Z" fill="#ff00ff"/><text x="334.40" y="49.26" class="lg" textLength="18.14" lengthAdjust="spacingAndGlyphs">RPnP</text><line x1="313.80" y1="55.09" x2="332.90" y2="55.09" stroke="#1f8a1f" stroke-width="1.5"/><path d="M323.50,51.06L327.52,57.50L319.48,57.50Z" fill="#1f8a1f"/><text x="334.40" y="58.19" class="lg" textLength="13.60" lengthAdjust="spacingAndGlyphs">DLS</text><line x1="313.80" y1="64.02" x2="332.90" y2="64.02" stroke="#1ee6ee" stroke-width="1.3"/><rect x="321.08" y="61.60" width="4.83" height="4.83" fill="#1ee6ee"/><text x="334.40" y="67.12" class="lg" textLength="18.51" lengthAdjust="spacingAndGlyphs">OPnP</text><line x1="313.80" y1="72.95" x2="332.90" y2="72.95" stroke="#f58220" stroke-width="1.6"/><circle cx="323.50" cy="72.95" r="2.47" fill="#f58220"/><text x="334.40" y="76.05" class="lg" textLength="22.67" lengthAdjust="spacingAndGlyphs">SRPnP</text><line x1="313.80" y1="81.88" x2="332.90" y2="81.88" stroke="#000000" stroke-width="1.7"/><path d="M323.50,86.25L327.58,79.46L319.42,79.46Z" fill="#000000"/><text x="334.40" y="84.98" class="lg" textLength="17.62" lengthAdjust="spacingAndGlyphs">RDLT</text><line x1="313.80" y1="90.81" x2="332.90" y2="90.81" stroke="#808080" stroke-width="1.4"/><path d="M327.06,90.81L321.20,86.90L321.20,94.72Z" fill="#808080"/><text x="334.40" y="93.91" class="lg" textLength="22.67" lengthAdjust="spacingAndGlyphs">ASPnP</text><line x1="313.80" y1="99.74" x2="332.90" y2="99.74" stroke="#0000ff" stroke-width="1.7"/><polygon points="323.50,95.83 324.55,98.64 327.55,98.77 325.20,100.64 326.00,103.53 323.50,101.87 321.00,103.53 321.80,100.64 319.45,98.77 322.45,98.64" fill="#0000ff"/><text x="334.40" y="102.84" class="lg" textLength="38.16" lengthAdjust="spacingAndGlyphs">Hidden PnP</text>
<line x1="57.26" y1="269.75" x2="57.26" y2="475.8" stroke="#f1f1f1" stroke-width="1"/><line x1="83.11" y1="269.75" x2="83.11" y2="475.8" stroke="#f1f1f1" stroke-width="1"/><line x1="108.97" y1="269.75" x2="108.97" y2="475.8" stroke="#f1f1f1" stroke-width="1"/><line x1="134.82" y1="269.75" x2="134.82" y2="475.8" stroke="#f1f1f1" stroke-width="1"/><line x1="160.68" y1="269.75" x2="160.68" y2="475.8" stroke="#f1f1f1" stroke-width="1"/><line x1="186.53" y1="269.75" x2="186.53" y2="475.8" stroke="#f1f1f1" stroke-width="1"/><line x1="212.39" y1="269.75" x2="212.39" y2="475.8" stroke="#f1f1f1" stroke-width="1"/><line x1="238.24" y1="269.75" x2="238.24" y2="475.8" stroke="#f1f1f1" stroke-width="1"/><line x1="31.4" y1="455.19" x2="264.1" y2="455.19" stroke="#f1f1f1" stroke-width="1"/><line x1="31.4" y1="434.59" x2="264.1" y2="434.59" stroke="#f1f1f1" stroke-width="1"/><line x1="31.4" y1="413.99" x2="264.1" y2="413.99" stroke="#f1f1f1" stroke-width="1"/><line x1="31.4" y1="393.38" x2="264.1" y2="393.38" stroke="#f1f1f1" stroke-width="1"/><line x1="31.4" y1="372.77" x2="264.1" y2="372.77" stroke="#f1f1f1" stroke-width="1"/><line x1="31.4" y1="352.17" x2="264.1" y2="352.17" stroke="#f1f1f1" stroke-width="1"/><line x1="31.4" y1="331.57" x2="264.1" y2="331.57" stroke="#f1f1f1" stroke-width="1"/><line x1="31.4" y1="310.96" x2="264.1" y2="310.96" stroke="#f1f1f1" stroke-width="1"/><line x1="31.4" y1="290.36" x2="264.1" y2="290.36" stroke="#f1f1f1" stroke-width="1"/><line x1="31.40" y1="475.8" x2="31.40" y2="473.0" stroke="#808080" stroke-width="0.9"/><line x1="31.40" y1="269.75" x2="31.40" y2="272.55" stroke="#808080" stroke-width="0.9"/><line x1="57.26" y1="475.8" x2="57.26" y2="473.0" stroke="#808080" stroke-width="0.9"/><line x1="57.26" y1="269.75" x2="57.26" y2="272.55" stroke="#808080" stroke-width="0.9"/><line x1="83.11" y1="475.8" x2="83.11" y2="473.0" stroke="#808080" stroke-width="0.9"/><line x1="83.11" y1="269.75" x2="83.11" y2="272.55" stroke="#808080" stroke-width="0.9"/><line x1="108.97" y1="475.8" x2="108.97" y2="473.0" stroke="#808080" stroke-width="0.9"/><line x1="108.97" y1="269.75" x2="108.97" y2="272.55" stroke="#808080" stroke-width="0.9"/><line x1="134.82" y1="475.8" x2="134.82" y2="473.0" stroke="#808080" stroke-width="0.9"/><line x1="134.82" y1="269.75" x2="134.82" y2="272.55" stroke="#808080" stroke-width="0.9"/><line x1="160.68" y1="475.8" x2="160.68" y2="473.0" stroke="#808080" stroke-width="0.9"/><line x1="160.68" y1="269.75" x2="160.68" y2="272.55" stroke="#808080" stroke-width="0.9"/><line x1="186.53" y1="475.8" x2="186.53" y2="473.0" stroke="#808080" stroke-width="0.9"/><line x1="186.53" y1="269.75" x2="186.53" y2="272.55" stroke="#808080" stroke-width="0.9"/><line x1="212.39" y1="475.8" x2="212.39" y2="473.0" stroke="#808080" stroke-width="0.9"/><line x1="212.39" y1="269.75" x2="212.39" y2="272.55" stroke="#808080" stroke-width="0.9"/><line x1="238.24" y1="475.8" x2="238.24" y2="473.0" stroke="#808080" stroke-width="0.9"/><line x1="238.24" y1="269.75" x2="238.24" y2="272.55" stroke="#808080" stroke-width="0.9"/><line x1="264.10" y1="475.8" x2="264.10" y2="473.0" stroke="#808080" stroke-width="0.9"/><line x1="264.10" y1="269.75" x2="264.10" y2="272.55" stroke="#808080" stroke-width="0.9"/><line x1="31.4" y1="475.80" x2="34.199999999999996" y2="475.80" stroke="#808080" stroke-width="0.9"/><line x1="264.1" y1="475.80" x2="261.3" y2="475.80" stroke="#808080" stroke-width="0.9"/><line x1="31.4" y1="455.19" x2="34.199999999999996" y2="455.19" stroke="#808080" stroke-width="0.9"/><line x1="264.1" y1="455.19" x2="261.3" y2="455.19" stroke="#808080" stroke-width="0.9"/><line x1="31.4" y1="434.59" x2="34.199999999999996" y2="434.59" stroke="#808080" stroke-width="0.9"/><line x1="264.1" y1="434.59" x2="261.3" y2="434.59" stroke="#808080" stroke-width="0.9"/><line x1="31.4" y1="413.99" x2="34.199999999999996" y2="413.99" stroke="#808080" stroke-width="0.9"/><line x1="264.1" y1="413.99" x2="261.3" y2="413.99" stroke="#808080" stroke-width="0.9"/><line x1="31.4" y1="393.38" x2="34.199999999999996" y2="393.38" stroke="#808080" stroke-width="0.9"/><line x1="264.1" y1="393.38" x2="261.3" y2="393.38" stroke="#808080" stroke-width="0.9"/><line x1="31.4" y1="372.77" x2="34.199999999999996" y2="372.77" stroke="#808080" stroke-width="0.9"/><line x1="264.1" y1="372.77" x2="261.3" y2="372.77" stroke="#808080" stroke-width="0.9"/><line x1="31.4" y1="352.17" x2="34.199999999999996" y2="352.17" stroke="#808080" stroke-width="0.9"/><line x1="264.1" y1="352.17" x2="261.3" y2="352.17" stroke="#808080" stroke-width="0.9"/><line x1="31.4" y1="331.57" x2="34.199999999999996" y2="331.57" stroke="#808080" stroke-width="0.9"/><line x1="264.1" y1="331.57" x2="261.3" y2="331.57" stroke="#808080" stroke-width="0.9"/><line x1="31.4" y1="310.96" x2="34.199999999999996" y2="310.96" stroke="#808080" stroke-width="0.9"/><line x1="264.1" y1="310.96" x2="261.3" y2="310.96" stroke="#808080" stroke-width="0.9"/><line x1="31.4" y1="290.36" x2="34.199999999999996" y2="290.36" stroke="#808080" stroke-width="0.9"/><line x1="264.1" y1="290.36" x2="261.3" y2="290.36" stroke="#808080" stroke-width="0.9"/><line x1="31.4" y1="269.75" x2="34.199999999999996" y2="269.75" stroke="#808080" stroke-width="0.9"/><line x1="264.1" y1="269.75" x2="261.3" y2="269.75" stroke="#808080" stroke-width="0.9"/><rect x="31.4" y="269.75" width="232.70" height="206.05" fill="none" stroke="#a2a2a2" stroke-width="1.3"/><polyline clip-path="url(#clipc)" points="31.40,336.92 57.26,330.33 83.11,315.08 108.97,333.63 134.82,309.72 160.68,309.31 186.53,330.33 212.39,330.33 238.24,310.96 264.10,298.18" fill="none" stroke="#e60f14" stroke-width="1.4" stroke-linejoin="round"/><path d="M29.39,334.92L33.41,338.93M29.39,338.93L33.41,334.92" stroke="#e60f14" stroke-width="1.3" fill="none"/><path d="M55.25,328.32L59.26,332.33M55.25,332.33L59.26,328.32" stroke="#e60f14" stroke-width="1.3" fill="none"/><path d="M81.11,313.08L85.12,317.09M81.11,317.09L85.12,313.08" stroke="#e60f14" stroke-width="1.3" fill="none"/><path d="M106.96,331.62L110.97,335.63M106.96,335.63L110.97,331.62" stroke="#e60f14" stroke-width="1.3" fill="none"/><path d="M132.82,307.72L136.83,311.73M132.82,311.73L136.83,307.72" stroke="#e60f14" stroke-width="1.3" fill="none"/><path d="M158.67,307.31L162.68,311.32M158.67,311.32L162.68,307.31" stroke="#e60f14" stroke-width="1.3" fill="none"/><path d="M184.53,328.32L188.54,332.33M184.53,332.33L188.54,328.32" stroke="#e60f14" stroke-width="1.3" fill="none"/><path d="M210.38,328.32L214.39,332.33M210.38,332.33L214.39,328.32" stroke="#e60f14" stroke-width="1.3" fill="none"/><path d="M236.24,308.95L240.25,312.97M236.24,312.97L240.25,308.95" stroke="#e60f14" stroke-width="1.3" fill="none"/><path d="M262.09,296.18L266.11,300.19M262.09,300.19L266.11,296.18" stroke="#e60f14" stroke-width="1.3" fill="none"/><polyline clip-path="url(#clipc)" points="31.40,321.67 57.26,329.09 83.11,268.51 108.97,278.82 134.82,254.50 160.68,228.54 186.53,207.94 212.39,187.33 238.24,187.33 264.10,187.33" fill="none" stroke="#12ee12" stroke-width="1.6" stroke-linejoin="round"/><circle cx="31.40" cy="321.67" r="3.60" fill="#12ee12"/><circle cx="57.26" cy="329.09" r="3.60" fill="#12ee12"/><circle cx="108.97" cy="278.82" r="3.60" fill="#12ee12"/><polyline clip-path="url(#clipc)" points="31.40,468.38 57.26,460.55 83.11,453.13 108.97,444.48 134.82,436.65 160.68,428.82 186.53,423.05 212.39,414.81 238.24,403.68 264.10,379.78" fill="none" stroke="#ff00ff" stroke-width="1.6" stroke-linejoin="round"/><path d="M31.40,463.78L34.88,468.38L31.40,472.98L27.92,468.38Z" fill="#ff00ff"/><path d="M57.26,455.95L60.74,460.55L57.26,465.15L53.77,460.55Z" fill="#ff00ff"/><path d="M83.11,448.53L86.59,453.13L83.11,457.74L79.63,453.13Z" fill="#ff00ff"/><path d="M108.97,439.88L112.45,444.48L108.97,449.08L105.49,444.48Z" fill="#ff00ff"/><path d="M134.82,432.05L138.30,436.65L134.82,441.25L131.34,436.65Z" fill="#ff00ff"/><path d="M160.68,424.22L164.16,428.82L160.68,433.42L157.20,428.82Z" fill="#ff00ff"/><path d="M186.53,418.45L190.01,423.05L186.53,427.65L183.05,423.05Z" fill="#ff00ff"/><path d="M212.39,410.21L215.87,414.81L212.39,419.41L208.91,414.81Z" fill="#ff00ff"/><path d="M238.24,399.08L241.73,403.68L238.24,408.28L234.76,403.68Z" fill="#ff00ff"/><path d="M264.10,375.18L267.58,379.78L264.10,384.38L260.62,379.78Z" fill="#ff00ff"/><polyline clip-path="url(#clipc)" points="31.40,465.91 57.26,431.71 83.11,389.67 108.97,452.31 134.82,272.63 160.68,302.31 186.53,383.49 212.39,266.45 238.24,288.71 264.10,293.24" fill="none" stroke="#1f8a1f" stroke-width="1.5" stroke-linejoin="round"/><path d="M31.40,461.78L35.53,468.39L27.27,468.39Z" fill="#1f8a1f"/><path d="M57.26,427.58L61.39,434.18L53.13,434.18Z" fill="#1f8a1f"/><path d="M83.11,385.54L87.24,392.15L78.98,392.15Z" fill="#1f8a1f"/><path d="M108.97,448.18L113.10,454.79L104.84,454.79Z" fill="#1f8a1f"/><path d="M134.82,268.50L138.95,275.11L130.69,275.11Z" fill="#1f8a1f"/><path d="M160.68,298.18L164.81,304.78L156.55,304.78Z" fill="#1f8a1f"/><path d="M186.53,379.36L190.66,385.97L182.40,385.97Z" fill="#1f8a1f"/><path d="M238.24,284.58L242.37,291.18L234.11,291.18Z" fill="#1f8a1f"/><path d="M264.10,289.11L268.23,295.72L259.97,295.72Z" fill="#1f8a1f"/><polyline clip-path="url(#clipc)" points="31.40,471.27 57.26,466.73 83.11,460.55 108.97,455.19 134.82,448.60 160.68,443.66 186.53,438.30 212.39,431.71 238.24,426.35 264.10,419.75" fill="none" stroke="#1ee6ee" stroke-width="1.3" stroke-linejoin="round"/><polyline clip-path="url(#clipc)" points="31.40,471.27 57.26,466.73 83.11,460.55 108.97,455.19 134.82,449.01 160.68,443.66 186.53,438.71 212.39,432.12 238.24,426.76 264.10,420.58" fill="none" stroke="#f58220" stroke-width="1.6" stroke-linejoin="round"/><circle cx="31.40" cy="471.27" r="2.54" fill="#f58220"/><circle cx="57.26" cy="466.73" r="2.54" fill="#f58220"/><circle cx="83.11" cy="460.55" r="2.54" fill="#f58220"/><circle cx="108.97" cy="455.19" r="2.54" fill="#f58220"/><circle cx="134.82" cy="449.01" r="2.54" fill="#f58220"/><circle cx="160.68" cy="443.66" r="2.54" fill="#f58220"/><circle cx="186.53" cy="438.71" r="2.54" fill="#f58220"/><circle cx="212.39" cy="432.12" r="2.54" fill="#f58220"/><circle cx="238.24" cy="426.76" r="2.54" fill="#f58220"/><circle cx="264.10" cy="420.58" r="2.54" fill="#f58220"/><polyline clip-path="url(#clipc)" points="31.40,471.27 57.26,466.73 83.11,460.55 108.97,455.19 134.82,448.60 160.68,443.66 186.53,438.30 212.39,431.71 238.24,426.35 264.10,418.93" fill="none" stroke="#000000" stroke-width="1.7" stroke-linejoin="round"/><path d="M31.40,475.75L35.59,468.79L27.21,468.79Z" fill="#000000"/><path d="M57.26,471.22L61.44,464.26L53.07,464.26Z" fill="#000000"/><path d="M83.11,465.04L87.30,458.07L78.92,458.07Z" fill="#000000"/><path d="M108.97,459.68L113.16,452.72L104.78,452.72Z" fill="#000000"/><path d="M134.82,453.09L139.01,446.12L130.63,446.12Z" fill="#000000"/><path d="M160.68,448.14L164.87,441.18L156.49,441.18Z" fill="#000000"/><path d="M186.53,442.78L190.72,435.82L182.34,435.82Z" fill="#000000"/><path d="M212.39,436.19L216.58,429.23L208.20,429.23Z" fill="#000000"/><path d="M238.24,430.83L242.43,423.87L234.06,423.87Z" fill="#000000"/><path d="M264.10,423.41L268.29,416.45L259.91,416.45Z" fill="#000000"/><polyline clip-path="url(#clipc)" points="31.40,465.50 57.26,458.90 83.11,459.73 108.97,453.96 134.82,445.30 160.68,440.36 186.53,431.71 212.39,423.46 238.24,424.70 264.10,413.57" fill="none" stroke="#808080" stroke-width="1.4" stroke-linejoin="round"/><path d="M35.06,465.50L29.04,461.49L29.04,469.51Z" fill="#808080"/><path d="M60.91,458.90L54.90,454.89L54.90,462.92Z" fill="#808080"/><path d="M86.77,459.73L80.75,455.72L80.75,463.74Z" fill="#808080"/><path d="M112.62,453.96L106.61,449.95L106.61,457.97Z" fill="#808080"/><path d="M138.48,445.30L132.46,441.29L132.46,449.32Z" fill="#808080"/><path d="M164.34,440.36L158.32,436.35L158.32,444.37Z" fill="#808080"/><path d="M190.19,431.71L184.17,427.69L184.17,435.72Z" fill="#808080"/><path d="M216.05,423.46L210.03,419.45L210.03,427.48Z" fill="#808080"/><path d="M241.90,424.70L235.88,420.69L235.88,428.71Z" fill="#808080"/><path d="M267.76,413.57L261.74,409.56L261.74,417.58Z" fill="#808080"/><polyline clip-path="url(#clipc)" points="31.40,471.27 57.26,466.73 83.11,461.38 108.97,456.02 134.82,449.84 160.68,445.72 186.53,441.60 212.39,435.00 238.24,432.12 264.10,424.29" fill="none" stroke="#0000ff" stroke-width="1.7" stroke-linejoin="round"/><polygon points="31.40,467.25 32.48,470.14 35.55,470.27 33.14,472.19 33.97,475.15 31.40,473.45 28.83,475.15 29.66,472.19 27.25,470.27 30.32,470.14" fill="#0000ff"/><polygon points="57.26,462.72 58.33,465.61 61.41,465.74 59.00,467.65 59.82,470.62 57.26,468.92 54.69,470.62 55.52,467.65 53.10,465.74 56.18,465.61" fill="#0000ff"/><polygon points="83.11,457.36 84.19,460.25 87.26,460.38 84.85,462.30 85.68,465.26 83.11,463.56 80.54,465.26 81.37,462.30 78.96,460.38 82.04,460.25" fill="#0000ff"/><polygon points="108.97,452.01 110.04,454.89 113.12,455.02 110.71,456.94 111.53,459.91 108.97,458.20 106.40,459.91 107.23,456.94 104.81,455.02 107.89,454.89" fill="#0000ff"/><polygon points="134.82,445.83 135.90,448.71 138.97,448.84 136.56,450.76 137.39,453.72 134.82,452.02 132.26,453.72 133.08,450.76 130.67,448.84 133.75,448.71" fill="#0000ff"/><polygon points="160.68,441.70 161.75,444.59 164.83,444.72 162.42,446.64 163.24,449.60 160.68,447.90 158.11,449.60 158.94,446.64 156.53,444.72 159.60,444.59" fill="#0000ff"/><polygon points="186.53,437.58 187.61,440.47 190.69,440.60 188.27,442.51 189.10,445.48 186.53,443.78 183.97,445.48 184.79,442.51 182.38,440.60 185.46,440.47" fill="#0000ff"/><polygon points="212.39,430.99 213.46,433.88 216.54,434.01 214.13,435.92 214.96,438.89 212.39,437.19 209.82,438.89 210.65,435.92 208.24,434.01 211.31,433.88" fill="#0000ff"/><polygon points="238.24,428.11 239.32,430.99 242.40,431.12 239.98,433.04 240.81,436.00 238.24,434.30 235.68,436.00 236.50,433.04 234.09,431.12 237.17,430.99" fill="#0000ff"/><polygon points="264.10,420.28 265.18,423.16 268.25,423.29 265.84,425.21 266.67,428.17 264.10,426.47 261.53,428.17 262.36,425.21 259.95,423.29 263.02,423.16" fill="#0000ff"/><text x="31.40" y="487.10" class="tk" text-anchor="middle" textLength="11.12" lengthAdjust="spacingAndGlyphs">0.5</text><text x="57.26" y="487.10" class="tk" text-anchor="middle" textLength="4.45" lengthAdjust="spacingAndGlyphs">1</text><text x="83.11" y="487.10" class="tk" text-anchor="middle" textLength="11.12" lengthAdjust="spacingAndGlyphs">1.5</text><text x="108.97" y="487.10" class="tk" text-anchor="middle" textLength="4.45" lengthAdjust="spacingAndGlyphs">2</text><text x="134.82" y="487.10" class="tk" text-anchor="middle" textLength="11.12" lengthAdjust="spacingAndGlyphs">2.5</text><text x="160.68" y="487.10" class="tk" text-anchor="middle" textLength="4.45" lengthAdjust="spacingAndGlyphs">3</text><text x="186.53" y="487.10" class="tk" text-anchor="middle" textLength="11.12" lengthAdjust="spacingAndGlyphs">3.5</text><text x="212.39" y="487.10" class="tk" text-anchor="middle" textLength="4.45" lengthAdjust="spacingAndGlyphs">4</text><text x="238.24" y="487.10" class="tk" text-anchor="middle" textLength="11.12" lengthAdjust="spacingAndGlyphs">4.5</text><text x="264.10" y="487.10" class="tk" text-anchor="middle" textLength="4.45" lengthAdjust="spacingAndGlyphs">5</text><text x="28.80" y="479.20" class="tk" text-anchor="end" textLength="4.45" lengthAdjust="spacingAndGlyphs">0</text><text x="28.80" y="458.59" class="tk" text-anchor="end" textLength="11.12" lengthAdjust="spacingAndGlyphs">0.5</text><text x="28.80" y="437.99" class="tk" text-anchor="end" textLength="4.45" lengthAdjust="spacingAndGlyphs">1</text><text x="28.80" y="417.38" class="tk" text-anchor="end" textLength="11.12" lengthAdjust="spacingAndGlyphs">1.5</text><text x="28.80" y="396.78" class="tk" text-anchor="end" textLength="4.45" lengthAdjust="spacingAndGlyphs">2</text><text x="28.80" y="376.17" class="tk" text-anchor="end" textLength="11.12" lengthAdjust="spacingAndGlyphs">2.5</text><text x="28.80" y="355.57" class="tk" text-anchor="end" textLength="4.45" lengthAdjust="spacingAndGlyphs">3</text><text x="28.80" y="334.97" class="tk" text-anchor="end" textLength="11.12" lengthAdjust="spacingAndGlyphs">3.5</text><text x="28.80" y="314.36" class="tk" text-anchor="end" textLength="4.45" lengthAdjust="spacingAndGlyphs">4</text><text x="28.80" y="293.75" class="tk" text-anchor="end" textLength="11.12" lengthAdjust="spacingAndGlyphs">4.5</text><text x="28.80" y="273.15" class="tk" text-anchor="end" textLength="4.45" lengthAdjust="spacingAndGlyphs">5</text><text x="147.75" y="498.60" style="font-size:8.7px" class="al" text-anchor="middle" textLength="121.00" lengthAdjust="spacingAndGlyphs">Gaussian Image Noise (pixels)</text><text transform="translate(15.10,371.88) rotate(-90)" style="font-size:8.7px" class="al" text-anchor="middle" textLength="85.00" lengthAdjust="spacingAndGlyphs">Translation Error (%)</text><text x="67.20" y="264.25" class="ti tl" textLength="12.40" lengthAdjust="spacingAndGlyphs">(c)</text><text x="81.90" y="264.65" class="ti" textLength="130.90" lengthAdjust="spacingAndGlyphs">Mean Translation Error</text><rect x="196.5" y="275.0" width="62.4" height="81.2" fill="#fff" stroke="#8c8c8c" stroke-width="1"/><line x1="198.00" y1="280.40" x2="217.10" y2="280.40" stroke="#e60f14" stroke-width="1.4"/><path d="M205.74,278.44L209.66,282.35M205.74,282.35L209.66,278.44" stroke="#e60f14" stroke-width="1.3" fill="none"/><text x="218.60" y="283.50" class="lg" textLength="14.73" lengthAdjust="spacingAndGlyphs">LHM</text><line x1="198.00" y1="289.33" x2="217.10" y2="289.33" stroke="#12ee12" stroke-width="1.6"/><circle cx="207.70" cy="289.33" r="3.51" fill="#12ee12"/><text x="218.60" y="292.43" class="lg" textLength="31.93" lengthAdjust="spacingAndGlyphs">EPnP+GN</text><line x1="198.00" y1="298.26" x2="217.10" y2="298.26" stroke="#ff00ff" stroke-width="1.6"/><path d="M207.70,293.77L211.09,298.26L207.70,302.75L204.31,298.26Z" fill="#ff00ff"/><text x="218.60" y="301.36" class="lg" textLength="18.14" lengthAdjust="spacingAndGlyphs">RPnP</text><line x1="198.00" y1="307.19" x2="217.10" y2="307.19" stroke="#1f8a1f" stroke-width="1.5"/><path d="M207.70,303.17L211.72,309.61L203.67,309.61Z" fill="#1f8a1f"/><text x="218.60" y="310.29" class="lg" textLength="13.60" lengthAdjust="spacingAndGlyphs">DLS</text><line x1="198.00" y1="316.12" x2="217.10" y2="316.12" stroke="#1ee6ee" stroke-width="1.3"/><rect x="205.28" y="313.70" width="4.83" height="4.83" fill="#1ee6ee"/><text x="218.60" y="319.22" class="lg" textLength="18.51" lengthAdjust="spacingAndGlyphs">OPnP</text><line x1="198.00" y1="325.05" x2="217.10" y2="325.05" stroke="#f58220" stroke-width="1.6"/><circle cx="207.70" cy="325.05" r="2.47" fill="#f58220"/><text x="218.60" y="328.15" class="lg" textLength="22.67" lengthAdjust="spacingAndGlyphs">SRPnP</text><line x1="198.00" y1="333.98" x2="217.10" y2="333.98" stroke="#000000" stroke-width="1.7"/><path d="M207.70,338.35L211.78,331.56L203.62,331.56Z" fill="#000000"/><text x="218.60" y="337.08" class="lg" textLength="17.62" lengthAdjust="spacingAndGlyphs">RDLT</text><line x1="198.00" y1="342.91" x2="217.10" y2="342.91" stroke="#808080" stroke-width="1.4"/><path d="M211.26,342.91L205.40,339.00L205.40,346.82Z" fill="#808080"/><text x="218.60" y="346.01" class="lg" textLength="22.67" lengthAdjust="spacingAndGlyphs">ASPnP</text><line x1="198.00" y1="351.84" x2="217.10" y2="351.84" stroke="#0000ff" stroke-width="1.7"/><polygon points="207.70,347.93 208.75,350.74 211.75,350.87 209.40,352.74 210.20,355.63 207.70,353.97 205.20,355.63 206.00,352.74 203.65,350.87 206.65,350.74" fill="#0000ff"/><text x="218.60" y="354.94" class="lg" textLength="38.16" lengthAdjust="spacingAndGlyphs">Hidden PnP</text>
<line x1="334.28" y1="269.75" x2="334.28" y2="475.8" stroke="#f1f1f1" stroke-width="1"/><line x1="360.12" y1="269.75" x2="360.12" y2="475.8" stroke="#f1f1f1" stroke-width="1"/><line x1="385.95" y1="269.75" x2="385.95" y2="475.8" stroke="#f1f1f1" stroke-width="1"/><line x1="411.78" y1="269.75" x2="411.78" y2="475.8" stroke="#f1f1f1" stroke-width="1"/><line x1="437.62" y1="269.75" x2="437.62" y2="475.8" stroke="#f1f1f1" stroke-width="1"/><line x1="463.45" y1="269.75" x2="463.45" y2="475.8" stroke="#f1f1f1" stroke-width="1"/><line x1="489.28" y1="269.75" x2="489.28" y2="475.8" stroke="#f1f1f1" stroke-width="1"/><line x1="515.12" y1="269.75" x2="515.12" y2="475.8" stroke="#f1f1f1" stroke-width="1"/><line x1="308.45" y1="455.19" x2="540.95" y2="455.19" stroke="#f1f1f1" stroke-width="1"/><line x1="308.45" y1="434.59" x2="540.95" y2="434.59" stroke="#f1f1f1" stroke-width="1"/><line x1="308.45" y1="413.99" x2="540.95" y2="413.99" stroke="#f1f1f1" stroke-width="1"/><line x1="308.45" y1="393.38" x2="540.95" y2="393.38" stroke="#f1f1f1" stroke-width="1"/><line x1="308.45" y1="372.77" x2="540.95" y2="372.77" stroke="#f1f1f1" stroke-width="1"/><line x1="308.45" y1="352.17" x2="540.95" y2="352.17" stroke="#f1f1f1" stroke-width="1"/><line x1="308.45" y1="331.57" x2="540.95" y2="331.57" stroke="#f1f1f1" stroke-width="1"/><line x1="308.45" y1="310.96" x2="540.95" y2="310.96" stroke="#f1f1f1" stroke-width="1"/><line x1="308.45" y1="290.36" x2="540.95" y2="290.36" stroke="#f1f1f1" stroke-width="1"/><line x1="308.45" y1="475.8" x2="308.45" y2="473.0" stroke="#808080" stroke-width="0.9"/><line x1="308.45" y1="269.75" x2="308.45" y2="272.55" stroke="#808080" stroke-width="0.9"/><line x1="334.28" y1="475.8" x2="334.28" y2="473.0" stroke="#808080" stroke-width="0.9"/><line x1="334.28" y1="269.75" x2="334.28" y2="272.55" stroke="#808080" stroke-width="0.9"/><line x1="360.12" y1="475.8" x2="360.12" y2="473.0" stroke="#808080" stroke-width="0.9"/><line x1="360.12" y1="269.75" x2="360.12" y2="272.55" stroke="#808080" stroke-width="0.9"/><line x1="385.95" y1="475.8" x2="385.95" y2="473.0" stroke="#808080" stroke-width="0.9"/><line x1="385.95" y1="269.75" x2="385.95" y2="272.55" stroke="#808080" stroke-width="0.9"/><line x1="411.78" y1="475.8" x2="411.78" y2="473.0" stroke="#808080" stroke-width="0.9"/><line x1="411.78" y1="269.75" x2="411.78" y2="272.55" stroke="#808080" stroke-width="0.9"/><line x1="437.62" y1="475.8" x2="437.62" y2="473.0" stroke="#808080" stroke-width="0.9"/><line x1="437.62" y1="269.75" x2="437.62" y2="272.55" stroke="#808080" stroke-width="0.9"/><line x1="463.45" y1="475.8" x2="463.45" y2="473.0" stroke="#808080" stroke-width="0.9"/><line x1="463.45" y1="269.75" x2="463.45" y2="272.55" stroke="#808080" stroke-width="0.9"/><line x1="489.28" y1="475.8" x2="489.28" y2="473.0" stroke="#808080" stroke-width="0.9"/><line x1="489.28" y1="269.75" x2="489.28" y2="272.55" stroke="#808080" stroke-width="0.9"/><line x1="515.12" y1="475.8" x2="515.12" y2="473.0" stroke="#808080" stroke-width="0.9"/><line x1="515.12" y1="269.75" x2="515.12" y2="272.55" stroke="#808080" stroke-width="0.9"/><line x1="540.95" y1="475.8" x2="540.95" y2="473.0" stroke="#808080" stroke-width="0.9"/><line x1="540.95" y1="269.75" x2="540.95" y2="272.55" stroke="#808080" stroke-width="0.9"/><line x1="308.45" y1="475.80" x2="311.25" y2="475.80" stroke="#808080" stroke-width="0.9"/><line x1="540.95" y1="475.80" x2="538.1500000000001" y2="475.80" stroke="#808080" stroke-width="0.9"/><line x1="308.45" y1="455.19" x2="311.25" y2="455.19" stroke="#808080" stroke-width="0.9"/><line x1="540.95" y1="455.19" x2="538.1500000000001" y2="455.19" stroke="#808080" stroke-width="0.9"/><line x1="308.45" y1="434.59" x2="311.25" y2="434.59" stroke="#808080" stroke-width="0.9"/><line x1="540.95" y1="434.59" x2="538.1500000000001" y2="434.59" stroke="#808080" stroke-width="0.9"/><line x1="308.45" y1="413.99" x2="311.25" y2="413.99" stroke="#808080" stroke-width="0.9"/><line x1="540.95" y1="413.99" x2="538.1500000000001" y2="413.99" stroke="#808080" stroke-width="0.9"/><line x1="308.45" y1="393.38" x2="311.25" y2="393.38" stroke="#808080" stroke-width="0.9"/><line x1="540.95" y1="393.38" x2="538.1500000000001" y2="393.38" stroke="#808080" stroke-width="0.9"/><line x1="308.45" y1="372.77" x2="311.25" y2="372.77" stroke="#808080" stroke-width="0.9"/><line x1="540.95" y1="372.77" x2="538.1500000000001" y2="372.77" stroke="#808080" stroke-width="0.9"/><line x1="308.45" y1="352.17" x2="311.25" y2="352.17" stroke="#808080" stroke-width="0.9"/><line x1="540.95" y1="352.17" x2="538.1500000000001" y2="352.17" stroke="#808080" stroke-width="0.9"/><line x1="308.45" y1="331.57" x2="311.25" y2="331.57" stroke="#808080" stroke-width="0.9"/><line x1="540.95" y1="331.57" x2="538.1500000000001" y2="331.57" stroke="#808080" stroke-width="0.9"/><line x1="308.45" y1="310.96" x2="311.25" y2="310.96" stroke="#808080" stroke-width="0.9"/><line x1="540.95" y1="310.96" x2="538.1500000000001" y2="310.96" stroke="#808080" stroke-width="0.9"/><line x1="308.45" y1="290.36" x2="311.25" y2="290.36" stroke="#808080" stroke-width="0.9"/><line x1="540.95" y1="290.36" x2="538.1500000000001" y2="290.36" stroke="#808080" stroke-width="0.9"/><line x1="308.45" y1="269.75" x2="311.25" y2="269.75" stroke="#808080" stroke-width="0.9"/><line x1="540.95" y1="269.75" x2="538.1500000000001" y2="269.75" stroke="#808080" stroke-width="0.9"/><rect x="308.45" y="269.75" width="232.50" height="206.05" fill="none" stroke="#a2a2a2" stroke-width="1.3"/><polyline clip-path="url(#clipd)" points="308.45,448.19 334.28,442.42 360.12,442.01 385.95,436.24 411.78,423.88 437.62,420.17 463.45,424.29 489.28,413.99 515.12,411.10 540.95,402.45" fill="none" stroke="#e60f14" stroke-width="1.4" stroke-linejoin="round"/><path d="M306.44,446.18L310.46,450.20M306.44,450.20L310.46,446.18" stroke="#e60f14" stroke-width="1.3" fill="none"/><path d="M332.28,440.41L336.29,444.43M332.28,444.43L336.29,440.41" stroke="#e60f14" stroke-width="1.3" fill="none"/><path d="M358.11,440.00L362.12,444.01M358.11,444.01L362.12,440.00" stroke="#e60f14" stroke-width="1.3" fill="none"/><path d="M383.94,434.23L387.96,438.24M383.94,438.24L387.96,434.23" stroke="#e60f14" stroke-width="1.3" fill="none"/><path d="M409.78,421.87L413.79,425.88M409.78,425.88L413.79,421.87" stroke="#e60f14" stroke-width="1.3" fill="none"/><path d="M435.61,418.16L439.62,422.17M435.61,422.17L439.62,418.16" stroke="#e60f14" stroke-width="1.3" fill="none"/><path d="M461.44,422.28L465.46,426.29M461.44,426.29L465.46,422.28" stroke="#e60f14" stroke-width="1.3" fill="none"/><path d="M487.28,411.98L491.29,415.99M487.28,415.99L491.29,411.98" stroke="#e60f14" stroke-width="1.3" fill="none"/><path d="M513.11,409.09L517.12,413.11M513.11,413.11L517.12,409.09" stroke="#e60f14" stroke-width="1.3" fill="none"/><path d="M538.94,400.44L542.96,404.45M538.94,404.45L542.96,400.44" stroke="#e60f14" stroke-width="1.3" fill="none"/><polyline clip-path="url(#clipd)" points="308.45,461.38 334.28,445.72 360.12,423.05 385.95,397.91 411.78,383.08 437.62,375.66 463.45,349.70 489.28,330.33 515.12,332.39 540.95,320.44" fill="none" stroke="#12ee12" stroke-width="1.6" stroke-linejoin="round"/><circle cx="308.45" cy="461.38" r="3.60" fill="#12ee12"/><circle cx="334.28" cy="445.72" r="3.60" fill="#12ee12"/><circle cx="360.12" cy="423.05" r="3.60" fill="#12ee12"/><circle cx="385.95" cy="397.91" r="3.60" fill="#12ee12"/><circle cx="411.78" cy="383.08" r="3.60" fill="#12ee12"/><circle cx="437.62" cy="375.66" r="3.60" fill="#12ee12"/><circle cx="463.45" cy="349.70" r="3.60" fill="#12ee12"/><circle cx="489.28" cy="330.33" r="3.60" fill="#12ee12"/><circle cx="515.12" cy="332.39" r="3.60" fill="#12ee12"/><circle cx="540.95" cy="320.44" r="3.60" fill="#12ee12"/><polyline clip-path="url(#clipd)" points="308.45,470.85 334.28,464.67 360.12,459.32 385.95,453.13 411.78,446.95 437.62,443.24 463.45,439.54 489.28,430.88 515.12,430.06 540.95,421.40" fill="none" stroke="#ff00ff" stroke-width="1.6" stroke-linejoin="round"/><path d="M308.45,466.25L311.93,470.85L308.45,475.46L304.97,470.85Z" fill="#ff00ff"/><path d="M334.28,460.07L337.76,464.67L334.28,469.28L330.80,464.67Z" fill="#ff00ff"/><path d="M360.12,454.71L363.60,459.32L360.12,463.92L356.64,459.32Z" fill="#ff00ff"/><path d="M385.95,448.53L389.43,453.13L385.95,457.74L382.47,453.13Z" fill="#ff00ff"/><path d="M411.78,442.35L415.26,446.95L411.78,451.56L408.30,446.95Z" fill="#ff00ff"/><path d="M437.62,438.64L441.10,443.24L437.62,447.85L434.14,443.24Z" fill="#ff00ff"/><path d="M463.45,434.93L466.93,439.54L463.45,444.14L459.97,439.54Z" fill="#ff00ff"/><path d="M489.28,426.28L492.76,430.88L489.28,435.48L485.80,430.88Z" fill="#ff00ff"/><path d="M515.12,425.45L518.60,430.06L515.12,434.66L511.64,430.06Z" fill="#ff00ff"/><path d="M540.95,416.80L544.43,421.40L540.95,426.00L537.47,421.40Z" fill="#ff00ff"/><polyline clip-path="url(#clipd)" points="308.45,472.09 334.28,467.97 360.12,464.26 385.95,460.55 411.78,455.61 437.62,451.90 463.45,448.19 489.28,439.12 515.12,438.71 540.95,431.71" fill="none" stroke="#1f8a1f" stroke-width="1.5" stroke-linejoin="round"/><path d="M308.45,467.96L312.58,474.57L304.32,474.57Z" fill="#1f8a1f"/><path d="M334.28,463.84L338.41,470.45L330.15,470.45Z" fill="#1f8a1f"/><path d="M360.12,460.13L364.25,466.74L355.99,466.74Z" fill="#1f8a1f"/><path d="M385.95,456.42L390.08,463.03L381.82,463.03Z" fill="#1f8a1f"/><path d="M411.78,451.48L415.91,458.09L407.65,458.09Z" fill="#1f8a1f"/><path d="M437.62,447.77L441.75,454.38L433.49,454.38Z" fill="#1f8a1f"/><path d="M463.45,444.06L467.58,450.67L459.32,450.67Z" fill="#1f8a1f"/><path d="M489.28,434.99L493.41,441.60L485.15,441.60Z" fill="#1f8a1f"/><path d="M515.12,434.58L519.25,441.19L510.99,441.19Z" fill="#1f8a1f"/><path d="M540.95,427.58L545.08,434.18L536.82,434.18Z" fill="#1f8a1f"/><polyline clip-path="url(#clipd)" points="308.45,472.50 334.28,468.38 360.12,464.67 385.95,460.96 411.78,456.43 437.62,452.72 463.45,449.43 489.28,440.36 515.12,440.36 540.95,433.35" fill="none" stroke="#1ee6ee" stroke-width="1.3" stroke-linejoin="round"/><polyline clip-path="url(#clipd)" points="308.45,472.50 334.28,468.38 360.12,464.67 385.95,460.96 411.78,456.84 437.62,453.13 463.45,449.84 489.28,441.18 515.12,441.18 540.95,434.59" fill="none" stroke="#f58220" stroke-width="1.6" stroke-linejoin="round"/><circle cx="308.45" cy="472.50" r="2.54" fill="#f58220"/><circle cx="334.28" cy="468.38" r="2.54" fill="#f58220"/><circle cx="360.12" cy="464.67" r="2.54" fill="#f58220"/><circle cx="385.95" cy="460.96" r="2.54" fill="#f58220"/><circle cx="411.78" cy="456.84" r="2.54" fill="#f58220"/><circle cx="437.62" cy="453.13" r="2.54" fill="#f58220"/><circle cx="463.45" cy="449.84" r="2.54" fill="#f58220"/><circle cx="489.28" cy="441.18" r="2.54" fill="#f58220"/><circle cx="515.12" cy="441.18" r="2.54" fill="#f58220"/><circle cx="540.95" cy="434.59" r="2.54" fill="#f58220"/><polyline clip-path="url(#clipd)" points="308.45,472.50 334.28,468.38 360.12,464.67 385.95,460.96 411.78,456.43 437.62,452.72 463.45,449.43 489.28,440.36 515.12,440.36 540.95,433.77" fill="none" stroke="#000000" stroke-width="1.7" stroke-linejoin="round"/><path d="M308.45,476.99L312.64,470.03L304.26,470.03Z" fill="#000000"/><path d="M334.28,472.87L338.47,465.90L330.09,465.90Z" fill="#000000"/><path d="M360.12,469.16L364.31,462.20L355.93,462.20Z" fill="#000000"/><path d="M385.95,465.45L390.14,458.49L381.76,458.49Z" fill="#000000"/><path d="M411.78,460.92L415.97,453.95L407.59,453.95Z" fill="#000000"/><path d="M437.62,457.21L441.81,450.24L433.43,450.24Z" fill="#000000"/><path d="M463.45,453.91L467.64,446.95L459.26,446.95Z" fill="#000000"/><path d="M489.28,444.84L493.47,437.88L485.09,437.88Z" fill="#000000"/><path d="M515.12,444.84L519.31,437.88L510.93,437.88Z" fill="#000000"/><path d="M540.95,438.25L545.14,431.29L536.76,431.29Z" fill="#000000"/><polyline clip-path="url(#clipd)" points="308.45,472.09 334.28,467.97 360.12,464.26 385.95,460.55 411.78,455.61 437.62,451.90 463.45,448.19 489.28,439.12 515.12,439.12 540.95,432.12" fill="none" stroke="#808080" stroke-width="1.4" stroke-linejoin="round"/><path d="M312.11,472.09L306.09,468.08L306.09,476.10Z" fill="#808080"/><path d="M337.94,467.97L331.92,463.96L331.92,471.98Z" fill="#808080"/><path d="M363.77,464.26L357.76,460.25L357.76,468.27Z" fill="#808080"/><path d="M389.61,460.55L383.59,456.54L383.59,464.56Z" fill="#808080"/><path d="M415.44,455.61L409.42,451.60L409.42,459.62Z" fill="#808080"/><path d="M441.27,451.90L435.26,447.89L435.26,455.91Z" fill="#808080"/><path d="M467.11,448.19L461.09,444.18L461.09,452.20Z" fill="#808080"/><path d="M492.94,439.12L486.92,435.11L486.92,443.14Z" fill="#808080"/><path d="M518.77,439.12L512.76,435.11L512.76,443.14Z" fill="#808080"/><path d="M544.61,432.12L538.59,428.11L538.59,436.13Z" fill="#808080"/><polyline clip-path="url(#clipd)" points="308.45,473.33 334.28,469.21 360.12,465.50 385.95,461.79 411.78,458.08 437.62,453.55 463.45,451.90 489.28,444.89 515.12,444.89 540.95,439.54" fill="none" stroke="#0000ff" stroke-width="1.7" stroke-linejoin="round"/><polygon points="308.45,469.32 309.53,472.20 312.60,472.33 310.19,474.25 311.02,477.21 308.45,475.51 305.88,477.21 306.71,474.25 304.30,472.33 307.37,472.20" fill="#0000ff"/><polygon points="334.28,465.19 335.36,468.08 338.44,468.21 336.02,470.13 336.85,473.09 334.28,471.39 331.72,473.09 332.54,470.13 330.13,468.21 333.21,468.08" fill="#0000ff"/><polygon points="360.12,461.49 361.19,464.37 364.27,464.50 361.86,466.42 362.68,469.38 360.12,467.68 357.55,469.38 358.38,466.42 355.96,464.50 359.04,464.37" fill="#0000ff"/><polygon points="385.95,457.78 387.03,460.66 390.10,460.79 387.69,462.71 388.52,465.67 385.95,463.97 383.38,465.67 384.21,462.71 381.80,460.79 384.87,460.66" fill="#0000ff"/><polygon points="411.78,454.07 412.86,456.95 415.94,457.08 413.52,459.00 414.35,461.97 411.78,460.26 409.22,461.97 410.04,459.00 407.63,457.08 410.71,456.95" fill="#0000ff"/><polygon points="437.62,449.53 438.69,452.42 441.77,452.55 439.36,454.47 440.18,457.43 437.62,455.73 435.05,457.43 435.88,454.47 433.46,452.55 436.54,452.42" fill="#0000ff"/><polygon points="463.45,447.89 464.53,450.77 467.60,450.90 465.19,452.82 466.02,455.78 463.45,454.08 460.88,455.78 461.71,452.82 459.30,450.90 462.37,450.77" fill="#0000ff"/><polygon points="489.28,440.88 490.36,443.77 493.44,443.90 491.02,445.81 491.85,448.78 489.28,447.08 486.72,448.78 487.54,445.81 485.13,443.90 488.21,443.77" fill="#0000ff"/><polygon points="515.12,440.88 516.19,443.77 519.27,443.90 516.86,445.81 517.68,448.78 515.12,447.08 512.55,448.78 513.38,445.81 510.96,443.90 514.04,443.77" fill="#0000ff"/><polygon points="540.95,435.52 542.03,438.41 545.10,438.54 542.69,440.45 543.52,443.42 540.95,441.72 538.38,443.42 539.21,440.45 536.80,438.54 539.87,438.41" fill="#0000ff"/><text x="308.45" y="487.10" class="tk" text-anchor="middle" textLength="11.12" lengthAdjust="spacingAndGlyphs">0.5</text><text x="334.28" y="487.10" class="tk" text-anchor="middle" textLength="4.45" lengthAdjust="spacingAndGlyphs">1</text><text x="360.12" y="487.10" class="tk" text-anchor="middle" textLength="11.12" lengthAdjust="spacingAndGlyphs">1.5</text><text x="385.95" y="487.10" class="tk" text-anchor="middle" textLength="4.45" lengthAdjust="spacingAndGlyphs">2</text><text x="411.78" y="487.10" class="tk" text-anchor="middle" textLength="11.12" lengthAdjust="spacingAndGlyphs">2.5</text><text x="437.62" y="487.10" class="tk" text-anchor="middle" textLength="4.45" lengthAdjust="spacingAndGlyphs">3</text><text x="463.45" y="487.10" class="tk" text-anchor="middle" textLength="11.12" lengthAdjust="spacingAndGlyphs">3.5</text><text x="489.28" y="487.10" class="tk" text-anchor="middle" textLength="4.45" lengthAdjust="spacingAndGlyphs">4</text><text x="515.12" y="487.10" class="tk" text-anchor="middle" textLength="11.12" lengthAdjust="spacingAndGlyphs">4.5</text><text x="540.95" y="487.10" class="tk" text-anchor="middle" textLength="4.45" lengthAdjust="spacingAndGlyphs">5</text><text x="305.85" y="479.20" class="tk" text-anchor="end" textLength="4.45" lengthAdjust="spacingAndGlyphs">0</text><text x="305.85" y="458.59" class="tk" text-anchor="end" textLength="11.12" lengthAdjust="spacingAndGlyphs">0.5</text><text x="305.85" y="437.99" class="tk" text-anchor="end" textLength="4.45" lengthAdjust="spacingAndGlyphs">1</text><text x="305.85" y="417.38" class="tk" text-anchor="end" textLength="11.12" lengthAdjust="spacingAndGlyphs">1.5</text><text x="305.85" y="396.78" class="tk" text-anchor="end" textLength="4.45" lengthAdjust="spacingAndGlyphs">2</text><text x="305.85" y="376.17" class="tk" text-anchor="end" textLength="11.12" lengthAdjust="spacingAndGlyphs">2.5</text><text x="305.85" y="355.57" class="tk" text-anchor="end" textLength="4.45" lengthAdjust="spacingAndGlyphs">3</text><text x="305.85" y="334.97" class="tk" text-anchor="end" textLength="11.12" lengthAdjust="spacingAndGlyphs">3.5</text><text x="305.85" y="314.36" class="tk" text-anchor="end" textLength="4.45" lengthAdjust="spacingAndGlyphs">4</text><text x="305.85" y="293.75" class="tk" text-anchor="end" textLength="11.12" lengthAdjust="spacingAndGlyphs">4.5</text><text x="305.85" y="273.15" class="tk" text-anchor="end" textLength="4.45" lengthAdjust="spacingAndGlyphs">5</text><text x="424.70" y="498.60" style="font-size:8.7px" class="al" text-anchor="middle" textLength="121.00" lengthAdjust="spacingAndGlyphs">Gaussian Image Noise (pixels)</text><text transform="translate(291.45,373.38) rotate(-90)" style="font-size:8.7px" class="al" text-anchor="middle" textLength="84.00" lengthAdjust="spacingAndGlyphs">Translation Error (%)</text><text x="337.20" y="264.25" class="ti tl" textLength="14.20" lengthAdjust="spacingAndGlyphs">(d)</text><text x="353.70" y="264.65" class="ti" textLength="142.70" lengthAdjust="spacingAndGlyphs">Median Translation Error</text><rect x="312.1" y="272.3" width="62.0" height="82.4" fill="#fff" stroke="#8c8c8c" stroke-width="1"/><line x1="313.60" y1="277.70" x2="332.70" y2="277.70" stroke="#e60f14" stroke-width="1.4"/><path d="M321.35,275.75L325.25,279.65M321.35,279.65L325.25,275.75" stroke="#e60f14" stroke-width="1.3" fill="none"/><text x="334.20" y="280.80" class="lg" textLength="14.73" lengthAdjust="spacingAndGlyphs">LHM</text><line x1="313.60" y1="286.63" x2="332.70" y2="286.63" stroke="#12ee12" stroke-width="1.6"/><circle cx="323.30" cy="286.63" r="3.51" fill="#12ee12"/><text x="334.20" y="289.73" class="lg" textLength="31.93" lengthAdjust="spacingAndGlyphs">EPnP+GN</text><line x1="313.60" y1="295.56" x2="332.70" y2="295.56" stroke="#ff00ff" stroke-width="1.6"/><path d="M323.30,291.07L326.69,295.56L323.30,300.05L319.91,295.56Z" fill="#ff00ff"/><text x="334.20" y="298.66" class="lg" textLength="18.14" lengthAdjust="spacingAndGlyphs">RPnP</text><line x1="313.60" y1="304.49" x2="332.70" y2="304.49" stroke="#1f8a1f" stroke-width="1.5"/><path d="M323.30,300.47L327.32,306.91L319.28,306.91Z" fill="#1f8a1f"/><text x="334.20" y="307.59" class="lg" textLength="13.60" lengthAdjust="spacingAndGlyphs">DLS</text><line x1="313.60" y1="313.42" x2="332.70" y2="313.42" stroke="#1ee6ee" stroke-width="1.3"/><rect x="320.88" y="311.00" width="4.83" height="4.83" fill="#1ee6ee"/><text x="334.20" y="316.52" class="lg" textLength="18.51" lengthAdjust="spacingAndGlyphs">OPnP</text><line x1="313.60" y1="322.35" x2="332.70" y2="322.35" stroke="#f58220" stroke-width="1.6"/><circle cx="323.30" cy="322.35" r="2.47" fill="#f58220"/><text x="334.20" y="325.45" class="lg" textLength="22.67" lengthAdjust="spacingAndGlyphs">SRPnP</text><line x1="313.60" y1="331.28" x2="332.70" y2="331.28" stroke="#000000" stroke-width="1.7"/><path d="M323.30,335.65L327.38,328.86L319.22,328.86Z" fill="#000000"/><text x="334.20" y="334.38" class="lg" textLength="17.62" lengthAdjust="spacingAndGlyphs">RDLT</text><line x1="313.60" y1="340.21" x2="332.70" y2="340.21" stroke="#808080" stroke-width="1.4"/><path d="M326.87,340.21L321.00,336.30L321.00,344.12Z" fill="#808080"/><text x="334.20" y="343.31" class="lg" textLength="22.67" lengthAdjust="spacingAndGlyphs">ASPnP</text><line x1="313.60" y1="349.14" x2="332.70" y2="349.14" stroke="#0000ff" stroke-width="1.7"/><polygon points="323.30,345.23 324.35,348.04 327.35,348.17 325.00,350.04 325.80,352.93 323.30,351.27 320.80,352.93 321.60,350.04 319.25,348.17 322.25,348.04" fill="#0000ff"/><text x="334.20" y="352.24" class="lg" textLength="38.16" lengthAdjust="spacingAndGlyphs">Hidden PnP</text>
</svg>
</body></html>
